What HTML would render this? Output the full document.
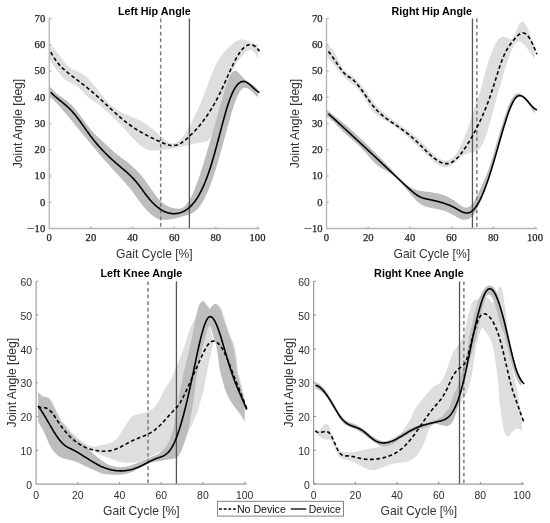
<!DOCTYPE html>
<html><head><meta charset="utf-8"><title>Joint Angles</title>
<style>html,body{margin:0;padding:0;background:#fff;}body{width:550px;height:523px;overflow:hidden;}svg{display:block;}</style>
</head><body>
<svg width="550" height="523" viewBox="0 0 550 523">
<g id="TL">
<path d="M49.5 44.2 L50.2 44.7 L50.9 45.3 L51.6 45.9 L52.3 46.6 L53.0 47.4 L53.7 48.1 L54.4 49.0 L55.1 49.8 L55.8 50.7 L56.5 51.6 L57.2 52.5 L57.9 53.4 L58.6 54.3 L59.3 55.3 L60.0 56.2 L60.7 57.2 L61.4 58.1 L62.1 59.1 L62.8 60.0 L63.5 60.9 L64.2 61.8 L64.9 62.7 L65.6 63.5 L66.3 64.3 L67.0 65.1 L67.7 65.8 L68.4 66.5 L69.1 67.1 L69.8 67.6 L70.5 68.2 L71.2 68.6 L71.9 69.1 L72.6 69.4 L73.3 69.8 L74.0 70.1 L74.7 70.4 L75.4 70.7 L76.1 71.0 L76.8 71.3 L77.5 71.6 L78.2 71.8 L78.9 72.1 L79.6 72.4 L80.3 72.8 L81.0 73.1 L81.7 73.5 L82.4 73.9 L83.1 74.4 L83.8 74.9 L84.5 75.4 L85.2 75.9 L85.9 76.5 L86.6 77.1 L87.3 77.8 L88.0 78.4 L88.7 79.1 L89.4 79.9 L90.1 80.6 L90.8 81.4 L91.5 82.1 L92.2 82.9 L92.9 83.8 L93.6 84.6 L94.3 85.4 L95.0 86.3 L95.7 87.2 L96.4 88.1 L97.1 88.9 L97.8 89.8 L98.5 90.7 L99.2 91.6 L99.9 92.5 L100.6 93.4 L101.3 94.3 L102.0 95.2 L102.7 96.0 L103.4 96.9 L104.1 97.7 L104.8 98.6 L105.5 99.4 L106.2 100.2 L106.9 101.0 L107.6 101.8 L108.3 102.5 L109.0 103.3 L109.7 104.0 L110.4 104.6 L111.1 105.3 L111.8 105.9 L112.5 106.5 L113.2 107.1 L113.9 107.6 L114.6 108.1 L115.3 108.6 L116.0 109.1 L116.7 109.6 L117.4 110.0 L118.1 110.5 L118.8 110.9 L119.5 111.3 L120.2 111.7 L120.9 112.0 L121.6 112.4 L122.3 112.7 L123.0 113.1 L123.7 113.4 L124.4 113.7 L125.1 114.0 L125.8 114.4 L126.5 114.7 L127.2 115.0 L127.9 115.3 L128.6 115.5 L129.3 115.8 L130.0 116.1 L130.7 116.4 L131.4 116.7 L132.1 117.0 L132.8 117.3 L133.5 117.6 L134.2 117.9 L134.9 118.2 L135.6 118.6 L136.3 118.9 L137.0 119.2 L137.7 119.5 L138.4 119.9 L139.1 120.2 L139.8 120.6 L140.5 120.9 L141.2 121.3 L141.9 121.7 L142.6 122.1 L143.3 122.5 L144.0 122.9 L144.7 123.3 L145.4 123.8 L146.1 124.2 L146.8 124.7 L147.5 125.2 L148.2 125.7 L148.9 126.2 L149.6 126.8 L150.3 127.3 L151.0 127.9 L151.7 128.4 L152.4 129.0 L153.1 129.6 L153.8 130.2 L154.5 130.8 L155.2 131.4 L155.9 132.0 L156.6 132.6 L157.3 133.2 L158.0 133.8 L158.7 134.5 L159.4 135.1 L160.1 135.7 L160.8 136.4 L161.5 137.0 L162.2 137.6 L162.9 138.2 L163.6 138.8 L164.3 139.4 L165.0 139.9 L165.7 140.4 L166.4 140.9 L167.1 141.4 L167.8 141.8 L168.5 142.2 L169.2 142.5 L169.9 142.8 L170.6 143.0 L171.3 143.2 L172.0 143.3 L172.7 143.4 L173.4 143.4 L174.1 143.3 L174.8 143.1 L175.5 142.9 L176.2 142.6 L176.9 142.2 L177.6 141.8 L178.3 141.3 L179.0 140.7 L179.7 140.1 L180.4 139.4 L181.1 138.7 L181.8 137.9 L182.5 137.0 L183.2 136.1 L183.9 135.2 L184.6 134.2 L185.3 133.2 L186.0 132.1 L186.7 131.0 L187.4 129.9 L188.1 128.7 L188.8 127.5 L189.5 126.2 L190.2 124.9 L190.9 123.6 L191.6 122.3 L192.3 121.0 L193.0 119.6 L193.7 118.2 L194.4 116.7 L195.1 115.3 L195.8 113.8 L196.5 112.3 L197.2 110.7 L197.9 109.2 L198.6 107.6 L199.3 106.0 L200.0 104.3 L200.7 102.7 L201.4 101.0 L202.1 99.3 L202.8 97.5 L203.5 95.8 L204.2 94.0 L204.9 92.2 L205.6 90.3 L206.3 88.5 L207.0 86.6 L207.7 84.7 L208.4 82.8 L209.1 81.0 L209.8 79.1 L210.5 77.3 L211.2 75.5 L211.9 73.7 L212.6 72.0 L213.3 70.3 L214.0 68.7 L214.7 67.1 L215.4 65.7 L216.1 64.3 L216.8 62.9 L217.5 61.6 L218.2 60.4 L218.9 59.3 L219.6 58.2 L220.3 57.2 L221.0 56.2 L221.7 55.2 L222.4 54.3 L223.1 53.5 L223.8 52.6 L224.5 51.8 L225.2 51.1 L225.9 50.3 L226.6 49.6 L227.3 48.9 L228.0 48.2 L228.7 47.5 L229.4 46.8 L230.1 46.1 L230.8 45.5 L231.5 44.9 L232.2 44.3 L232.9 43.7 L233.6 43.1 L234.3 42.6 L235.0 42.1 L235.7 41.6 L236.4 41.2 L237.1 40.8 L237.8 40.5 L238.5 40.2 L239.2 39.9 L239.9 39.7 L240.6 39.6 L241.3 39.5 L242.0 39.5 L242.7 39.5 L243.4 39.6 L244.1 39.8 L244.8 39.9 L245.5 40.1 L246.2 40.4 L246.9 40.6 L247.6 40.9 L248.3 41.2 L249.0 41.5 L249.7 41.8 L250.4 42.1 L251.1 42.4 L251.8 42.7 L252.5 43.0 L253.2 43.2 L253.9 43.4 L254.6 43.6 L255.3 43.7 L256.0 43.8 L256.7 43.9 L257.9 43.8 L257.9 59.2 L256.7 56.5 L256.0 55.1 L255.3 54.0 L254.6 53.0 L253.9 52.1 L253.2 51.5 L252.5 50.9 L251.8 50.5 L251.1 50.3 L250.4 50.1 L249.7 50.1 L249.0 50.2 L248.3 50.4 L247.6 50.7 L246.9 51.1 L246.2 51.6 L245.5 52.1 L244.8 52.8 L244.1 53.5 L243.4 54.2 L242.7 55.0 L242.0 55.9 L241.3 56.7 L240.6 57.7 L239.9 58.6 L239.2 59.6 L238.5 60.6 L237.8 61.6 L237.1 62.6 L236.4 63.7 L235.7 64.8 L235.0 65.9 L234.3 67.0 L233.6 68.2 L232.9 69.5 L232.2 70.9 L231.5 72.5 L230.8 74.2 L230.1 76.1 L229.4 78.2 L228.7 80.3 L228.0 82.6 L227.3 85.0 L226.6 87.5 L225.9 90.1 L225.2 92.7 L224.5 95.3 L223.8 97.9 L223.1 100.6 L222.4 103.2 L221.7 105.8 L221.0 108.4 L220.3 110.9 L219.6 113.3 L218.9 115.7 L218.2 118.1 L217.5 120.3 L216.8 122.5 L216.1 124.6 L215.4 126.6 L214.7 128.5 L214.0 130.3 L213.3 132.0 L212.6 133.5 L211.9 135.0 L211.2 136.3 L210.5 137.5 L209.8 138.6 L209.1 139.5 L208.4 140.2 L207.7 140.8 L207.0 141.3 L206.3 141.6 L205.6 141.8 L204.9 141.9 L204.2 142.0 L203.5 142.1 L202.8 142.2 L202.1 142.3 L201.4 142.4 L200.7 142.5 L200.0 142.6 L199.3 142.7 L198.6 142.8 L197.9 143.0 L197.2 143.1 L196.5 143.3 L195.8 143.4 L195.1 143.6 L194.4 143.7 L193.7 143.9 L193.0 144.1 L192.3 144.3 L191.6 144.4 L190.9 144.6 L190.2 144.8 L189.5 144.9 L188.8 145.1 L188.1 145.3 L187.4 145.4 L186.7 145.6 L186.0 145.8 L185.3 145.9 L184.6 146.1 L183.9 146.2 L183.2 146.4 L182.5 146.5 L181.8 146.7 L181.1 146.8 L180.4 147.0 L179.7 147.1 L179.0 147.3 L178.3 147.4 L177.6 147.6 L176.9 147.7 L176.2 147.8 L175.5 148.0 L174.8 148.1 L174.1 148.2 L173.4 148.3 L172.7 148.5 L172.0 148.6 L171.3 148.7 L170.6 148.8 L169.9 148.9 L169.2 149.0 L168.5 149.1 L167.8 149.2 L167.1 149.4 L166.4 149.5 L165.7 149.5 L165.0 149.6 L164.3 149.7 L163.6 149.8 L162.9 149.9 L162.2 150.0 L161.5 150.1 L160.8 150.2 L160.1 150.2 L159.4 150.3 L158.7 150.4 L158.0 150.5 L157.3 150.5 L156.6 150.6 L155.9 150.6 L155.2 150.7 L154.5 150.7 L153.8 150.7 L153.1 150.7 L152.4 150.7 L151.7 150.6 L151.0 150.5 L150.3 150.4 L149.6 150.3 L148.9 150.1 L148.2 149.9 L147.5 149.7 L146.8 149.4 L146.1 149.1 L145.4 148.8 L144.7 148.4 L144.0 148.0 L143.3 147.6 L142.6 147.1 L141.9 146.6 L141.2 146.1 L140.5 145.5 L139.8 145.0 L139.1 144.4 L138.4 143.7 L137.7 143.1 L137.0 142.4 L136.3 141.8 L135.6 141.1 L134.9 140.4 L134.2 139.7 L133.5 138.9 L132.8 138.2 L132.1 137.4 L131.4 136.7 L130.7 135.9 L130.0 135.2 L129.3 134.4 L128.6 133.6 L127.9 132.9 L127.2 132.1 L126.5 131.3 L125.8 130.6 L125.1 129.8 L124.4 129.1 L123.7 128.3 L123.0 127.5 L122.3 126.8 L121.6 126.0 L120.9 125.3 L120.2 124.5 L119.5 123.8 L118.8 123.1 L118.1 122.3 L117.4 121.6 L116.7 120.9 L116.0 120.1 L115.3 119.4 L114.6 118.7 L113.9 118.0 L113.2 117.3 L112.5 116.6 L111.8 115.9 L111.1 115.3 L110.4 114.6 L109.7 113.9 L109.0 113.3 L108.3 112.6 L107.6 112.0 L106.9 111.4 L106.2 110.7 L105.5 110.1 L104.8 109.5 L104.1 108.9 L103.4 108.3 L102.7 107.8 L102.0 107.2 L101.3 106.6 L100.6 106.1 L99.9 105.6 L99.2 105.0 L98.5 104.5 L97.8 104.0 L97.1 103.5 L96.4 103.1 L95.7 102.6 L95.0 102.1 L94.3 101.7 L93.6 101.2 L92.9 100.7 L92.2 100.3 L91.5 99.8 L90.8 99.3 L90.1 98.8 L89.4 98.3 L88.7 97.7 L88.0 97.2 L87.3 96.6 L86.6 95.9 L85.9 95.3 L85.2 94.6 L84.5 93.8 L83.8 93.1 L83.1 92.3 L82.4 91.5 L81.7 90.7 L81.0 89.9 L80.3 89.1 L79.6 88.4 L78.9 87.7 L78.2 87.0 L77.5 86.5 L76.8 85.9 L76.1 85.5 L75.4 85.0 L74.7 84.6 L74.0 84.2 L73.3 83.9 L72.6 83.6 L71.9 83.2 L71.2 82.9 L70.5 82.6 L69.8 82.3 L69.1 81.9 L68.4 81.5 L67.7 81.1 L67.0 80.7 L66.3 80.3 L65.6 79.7 L64.9 79.2 L64.2 78.6 L63.5 77.9 L62.8 77.2 L62.1 76.5 L61.4 75.7 L60.7 74.9 L60.0 74.1 L59.3 73.3 L58.6 72.4 L57.9 71.5 L57.2 70.6 L56.5 69.6 L55.8 68.7 L55.1 67.7 L54.4 66.7 L53.7 65.7 L53.0 64.7 L52.3 63.7 L51.6 62.7 L50.9 61.7 L50.2 60.8 L49.5 59.8Z" fill="#dedede"/>
<path d="M49.5 86.0 L50.2 86.9 L50.9 87.7 L51.6 88.6 L52.3 89.3 L53.0 90.1 L53.7 90.8 L54.4 91.5 L55.1 92.1 L55.8 92.8 L56.5 93.4 L57.2 93.9 L57.9 94.5 L58.6 95.0 L59.3 95.6 L60.0 96.1 L60.7 96.6 L61.4 97.1 L62.1 97.6 L62.8 98.1 L63.5 98.6 L64.2 99.1 L64.9 99.6 L65.6 100.1 L66.3 100.6 L67.0 101.1 L67.7 101.6 L68.4 102.2 L69.1 102.8 L69.8 103.4 L70.5 104.0 L71.2 104.7 L71.9 105.3 L72.6 106.1 L73.3 106.8 L74.0 107.6 L74.7 108.4 L75.4 109.2 L76.1 110.1 L76.8 110.9 L77.5 111.8 L78.2 112.7 L78.9 113.6 L79.6 114.6 L80.3 115.5 L81.0 116.5 L81.7 117.4 L82.4 118.4 L83.1 119.4 L83.8 120.3 L84.5 121.3 L85.2 122.3 L85.9 123.2 L86.6 124.2 L87.3 125.1 L88.0 126.0 L88.7 126.9 L89.4 127.8 L90.1 128.7 L90.8 129.5 L91.5 130.4 L92.2 131.2 L92.9 132.0 L93.6 132.7 L94.3 133.5 L95.0 134.2 L95.7 134.9 L96.4 135.6 L97.1 136.3 L97.8 137.0 L98.5 137.7 L99.2 138.3 L99.9 139.0 L100.6 139.6 L101.3 140.3 L102.0 140.9 L102.7 141.6 L103.4 142.2 L104.1 142.9 L104.8 143.5 L105.5 144.2 L106.2 144.8 L106.9 145.5 L107.6 146.2 L108.3 146.8 L109.0 147.5 L109.7 148.1 L110.4 148.7 L111.1 149.4 L111.8 150.0 L112.5 150.6 L113.2 151.2 L113.9 151.8 L114.6 152.4 L115.3 153.0 L116.0 153.6 L116.7 154.1 L117.4 154.7 L118.1 155.2 L118.8 155.8 L119.5 156.3 L120.2 156.8 L120.9 157.4 L121.6 157.9 L122.3 158.4 L123.0 158.9 L123.7 159.5 L124.4 160.0 L125.1 160.5 L125.8 161.0 L126.5 161.6 L127.2 162.1 L127.9 162.7 L128.6 163.2 L129.3 163.8 L130.0 164.4 L130.7 164.9 L131.4 165.5 L132.1 166.1 L132.8 166.7 L133.5 167.4 L134.2 168.0 L134.9 168.7 L135.6 169.3 L136.3 170.0 L137.0 170.7 L137.7 171.5 L138.4 172.2 L139.1 173.0 L139.8 173.7 L140.5 174.5 L141.2 175.4 L141.9 176.2 L142.6 177.1 L143.3 178.0 L144.0 178.9 L144.7 179.9 L145.4 180.8 L146.1 181.8 L146.8 182.8 L147.5 183.8 L148.2 184.8 L148.9 185.8 L149.6 186.8 L150.3 187.8 L151.0 188.8 L151.7 189.8 L152.4 190.8 L153.1 191.8 L153.8 192.8 L154.5 193.8 L155.2 194.7 L155.9 195.6 L156.6 196.5 L157.3 197.4 L158.0 198.2 L158.7 199.0 L159.4 199.8 L160.1 200.6 L160.8 201.3 L161.5 201.9 L162.2 202.6 L162.9 203.1 L163.6 203.7 L164.3 204.2 L165.0 204.6 L165.7 205.1 L166.4 205.5 L167.1 205.8 L167.8 206.2 L168.5 206.5 L169.2 206.8 L169.9 207.0 L170.6 207.3 L171.3 207.5 L172.0 207.7 L172.7 207.9 L173.4 208.0 L174.1 208.2 L174.8 208.3 L175.5 208.4 L176.2 208.5 L176.9 208.6 L177.6 208.7 L178.3 208.7 L179.0 208.6 L179.7 208.5 L180.4 208.4 L181.1 208.2 L181.8 208.0 L182.5 207.7 L183.2 207.3 L183.9 206.8 L184.6 206.2 L185.3 205.6 L186.0 204.9 L186.7 204.1 L187.4 203.1 L188.1 202.1 L188.8 201.1 L189.5 199.9 L190.2 198.6 L190.9 197.3 L191.6 195.9 L192.3 194.4 L193.0 192.9 L193.7 191.3 L194.4 189.6 L195.1 187.9 L195.8 186.1 L196.5 184.2 L197.2 182.3 L197.9 180.4 L198.6 178.4 L199.3 176.4 L200.0 174.3 L200.7 172.2 L201.4 170.0 L202.1 167.8 L202.8 165.6 L203.5 163.4 L204.2 161.1 L204.9 158.8 L205.6 156.5 L206.3 154.1 L207.0 151.8 L207.7 149.4 L208.4 147.0 L209.1 144.6 L209.8 142.2 L210.5 139.8 L211.2 137.4 L211.9 135.0 L212.6 132.5 L213.3 130.1 L214.0 127.6 L214.7 125.1 L215.4 122.7 L216.1 120.2 L216.8 117.7 L217.5 115.2 L218.2 112.7 L218.9 110.2 L219.6 107.7 L220.3 105.3 L221.0 102.8 L221.7 100.4 L222.4 98.0 L223.1 95.7 L223.8 93.3 L224.5 91.1 L225.2 88.8 L225.9 86.6 L226.6 84.5 L227.3 82.5 L228.0 80.6 L228.7 78.8 L229.4 77.2 L230.1 75.7 L230.8 74.3 L231.5 73.2 L232.2 72.2 L232.9 71.5 L233.6 71.0 L234.3 70.8 L235.0 70.7 L235.7 70.8 L236.4 71.1 L237.1 71.5 L237.8 72.0 L238.5 72.7 L239.2 73.3 L239.9 74.1 L240.6 74.8 L241.3 75.6 L242.0 76.4 L242.7 77.2 L243.4 78.0 L244.1 78.7 L244.8 79.4 L245.5 80.1 L246.2 80.7 L246.9 81.2 L247.6 81.7 L248.3 82.2 L249.0 82.6 L249.7 83.0 L250.4 83.5 L251.1 83.9 L251.8 84.3 L252.5 84.7 L253.2 85.2 L253.9 85.7 L254.6 86.3 L255.3 87.0 L256.0 87.7 L256.7 88.5 L257.9 90.0 L257.9 97.2 L256.7 96.3 L256.0 95.7 L255.3 95.0 L254.6 94.3 L253.9 93.7 L253.2 93.0 L252.5 92.3 L251.8 91.6 L251.1 91.0 L250.4 90.4 L249.7 89.8 L249.0 89.3 L248.3 88.8 L247.6 88.4 L246.9 88.1 L246.2 87.9 L245.5 87.7 L244.8 87.7 L244.1 87.8 L243.4 88.1 L242.7 88.4 L242.0 89.0 L241.3 89.6 L240.6 90.5 L239.9 91.5 L239.2 92.6 L238.5 93.9 L237.8 95.3 L237.1 96.9 L236.4 98.6 L235.7 100.4 L235.0 102.3 L234.3 104.3 L233.6 106.4 L232.9 108.5 L232.2 110.8 L231.5 113.1 L230.8 115.5 L230.1 117.9 L229.4 120.4 L228.7 122.9 L228.0 125.5 L227.3 128.1 L226.6 130.7 L225.9 133.3 L225.2 135.9 L224.5 138.5 L223.8 141.1 L223.1 143.6 L222.4 146.2 L221.7 148.8 L221.0 151.3 L220.3 153.8 L219.6 156.3 L218.9 158.7 L218.2 161.1 L217.5 163.5 L216.8 165.8 L216.1 168.1 L215.4 170.4 L214.7 172.6 L214.0 174.7 L213.3 176.8 L212.6 178.8 L211.9 180.8 L211.2 182.8 L210.5 184.6 L209.8 186.5 L209.1 188.3 L208.4 190.0 L207.7 191.7 L207.0 193.3 L206.3 194.8 L205.6 196.3 L204.9 197.8 L204.2 199.1 L203.5 200.4 L202.8 201.7 L202.1 202.9 L201.4 204.0 L200.7 205.1 L200.0 206.1 L199.3 207.0 L198.6 207.9 L197.9 208.7 L197.2 209.5 L196.5 210.1 L195.8 210.7 L195.1 211.3 L194.4 211.8 L193.7 212.3 L193.0 212.7 L192.3 213.0 L191.6 213.4 L190.9 213.7 L190.2 214.0 L189.5 214.2 L188.8 214.5 L188.1 214.7 L187.4 214.9 L186.7 215.1 L186.0 215.4 L185.3 215.6 L184.6 215.8 L183.9 216.0 L183.2 216.2 L182.5 216.4 L181.8 216.6 L181.1 216.9 L180.4 217.1 L179.7 217.3 L179.0 217.5 L178.3 217.7 L177.6 217.8 L176.9 218.0 L176.2 218.2 L175.5 218.4 L174.8 218.5 L174.1 218.7 L173.4 218.8 L172.7 219.0 L172.0 219.1 L171.3 219.2 L170.6 219.3 L169.9 219.4 L169.2 219.5 L168.5 219.6 L167.8 219.7 L167.1 219.8 L166.4 219.8 L165.7 219.8 L165.0 219.8 L164.3 219.8 L163.6 219.8 L162.9 219.8 L162.2 219.7 L161.5 219.6 L160.8 219.5 L160.1 219.4 L159.4 219.2 L158.7 219.0 L158.0 218.8 L157.3 218.5 L156.6 218.2 L155.9 217.9 L155.2 217.5 L154.5 217.1 L153.8 216.6 L153.1 216.1 L152.4 215.6 L151.7 215.1 L151.0 214.5 L150.3 213.9 L149.6 213.2 L148.9 212.6 L148.2 211.9 L147.5 211.1 L146.8 210.4 L146.1 209.6 L145.4 208.8 L144.7 208.0 L144.0 207.1 L143.3 206.3 L142.6 205.4 L141.9 204.5 L141.2 203.6 L140.5 202.7 L139.8 201.8 L139.1 200.8 L138.4 199.9 L137.7 198.9 L137.0 198.0 L136.3 197.0 L135.6 196.0 L134.9 195.0 L134.2 194.1 L133.5 193.1 L132.8 192.1 L132.1 191.2 L131.4 190.3 L130.7 189.4 L130.0 188.5 L129.3 187.6 L128.6 186.8 L127.9 186.0 L127.2 185.2 L126.5 184.4 L125.8 183.6 L125.1 182.8 L124.4 182.0 L123.7 181.2 L123.0 180.4 L122.3 179.7 L121.6 178.9 L120.9 178.1 L120.2 177.4 L119.5 176.6 L118.8 175.8 L118.1 175.1 L117.4 174.3 L116.7 173.5 L116.0 172.8 L115.3 172.0 L114.6 171.2 L113.9 170.5 L113.2 169.7 L112.5 168.9 L111.8 168.2 L111.1 167.4 L110.4 166.6 L109.7 165.9 L109.0 165.1 L108.3 164.3 L107.6 163.5 L106.9 162.7 L106.2 161.9 L105.5 161.2 L104.8 160.4 L104.1 159.6 L103.4 158.8 L102.7 158.0 L102.0 157.2 L101.3 156.3 L100.6 155.5 L99.9 154.7 L99.2 153.9 L98.5 153.1 L97.8 152.3 L97.1 151.4 L96.4 150.6 L95.7 149.8 L95.0 148.9 L94.3 148.1 L93.6 147.3 L92.9 146.4 L92.2 145.6 L91.5 144.8 L90.8 143.9 L90.1 143.1 L89.4 142.2 L88.7 141.4 L88.0 140.5 L87.3 139.7 L86.6 138.8 L85.9 138.0 L85.2 137.1 L84.5 136.3 L83.8 135.4 L83.1 134.6 L82.4 133.7 L81.7 132.9 L81.0 132.0 L80.3 131.2 L79.6 130.3 L78.9 129.5 L78.2 128.6 L77.5 127.7 L76.8 126.9 L76.1 126.0 L75.4 125.2 L74.7 124.3 L74.0 123.5 L73.3 122.6 L72.6 121.8 L71.9 120.9 L71.2 120.1 L70.5 119.3 L69.8 118.4 L69.1 117.6 L68.4 116.8 L67.7 115.9 L67.0 115.1 L66.3 114.3 L65.6 113.5 L64.9 112.6 L64.2 111.8 L63.5 111.0 L62.8 110.2 L62.1 109.4 L61.4 108.6 L60.7 107.8 L60.0 107.0 L59.3 106.2 L58.6 105.5 L57.9 104.7 L57.2 103.9 L56.5 103.2 L55.8 102.4 L55.1 101.7 L54.4 100.9 L53.7 100.2 L53.0 99.4 L52.3 98.7 L51.6 98.0 L50.9 97.3 L50.2 96.6 L49.5 95.9Z" fill="#bdbdbd"/>
<path d="M189.40 18.5V228.5" stroke="#555" stroke-width="1.3" fill="none"/>
<path d="M160.66 18.5V228.5" stroke="#787878" stroke-width="1.45" stroke-dasharray="3.7 2.9" fill="none"/>
<path d="M50.8 52.2 L51.5 53.5 L52.2 54.7 L52.9 55.9 L53.6 57.0 L54.3 58.1 L55.0 59.1 L55.7 60.1 L56.4 61.1 L57.1 62.0 L57.8 62.9 L58.5 63.8 L59.2 64.6 L59.9 65.4 L60.6 66.1 L61.3 66.9 L62.0 67.6 L62.7 68.3 L63.4 68.9 L64.1 69.5 L64.8 70.2 L65.5 70.8 L66.2 71.4 L66.9 71.9 L67.6 72.5 L68.3 73.1 L69.0 73.6 L69.7 74.2 L70.4 74.7 L71.1 75.3 L71.8 75.8 L72.5 76.3 L73.2 76.9 L73.9 77.4 L74.6 77.9 L75.3 78.5 L76.0 79.0 L76.7 79.5 L77.4 80.1 L78.1 80.6 L78.8 81.1 L79.5 81.7 L80.2 82.2 L80.9 82.8 L81.6 83.3 L82.3 83.8 L83.0 84.4 L83.7 84.9 L84.4 85.5 L85.1 86.0 L85.8 86.6 L86.5 87.1 L87.2 87.7 L87.9 88.3 L88.6 88.8 L89.3 89.4 L90.0 90.0 L90.7 90.6 L91.4 91.2 L92.1 91.8 L92.8 92.4 L93.5 93.0 L94.2 93.6 L94.9 94.2 L95.6 94.8 L96.3 95.4 L97.0 96.1 L97.7 96.7 L98.4 97.3 L99.1 98.0 L99.8 98.6 L100.5 99.2 L101.2 99.9 L101.9 100.5 L102.6 101.2 L103.3 101.8 L104.0 102.5 L104.7 103.1 L105.4 103.8 L106.1 104.4 L106.8 105.1 L107.5 105.8 L108.2 106.4 L108.9 107.1 L109.6 107.7 L110.3 108.4 L111.0 109.0 L111.7 109.7 L112.4 110.3 L113.1 110.9 L113.8 111.6 L114.5 112.2 L115.2 112.9 L115.9 113.5 L116.6 114.1 L117.3 114.7 L118.0 115.4 L118.7 116.0 L119.4 116.6 L120.1 117.2 L120.8 117.8 L121.5 118.4 L122.2 119.0 L122.9 119.6 L123.6 120.1 L124.3 120.7 L125.0 121.3 L125.7 121.8 L126.4 122.4 L127.1 122.9 L127.8 123.5 L128.5 124.0 L129.2 124.5 L129.9 125.0 L130.6 125.5 L131.3 126.0 L132.0 126.5 L132.7 127.0 L133.4 127.4 L134.1 127.9 L134.8 128.4 L135.5 128.8 L136.2 129.3 L136.9 129.7 L137.6 130.1 L138.3 130.6 L139.0 131.0 L139.7 131.4 L140.4 131.8 L141.1 132.2 L141.8 132.6 L142.5 133.0 L143.2 133.4 L143.9 133.8 L144.6 134.1 L145.3 134.5 L146.0 134.9 L146.7 135.3 L147.4 135.6 L148.1 136.0 L148.8 136.3 L149.5 136.7 L150.2 137.0 L150.9 137.4 L151.6 137.7 L152.3 138.1 L153.0 138.4 L153.7 138.7 L154.4 139.1 L155.1 139.4 L155.8 139.7 L156.5 140.0 L157.2 140.4 L157.9 140.7 L158.6 141.0 L159.3 141.3 L160.0 141.6 L160.7 142.0 L161.4 142.3 L162.1 142.6 L162.8 142.9 L163.5 143.2 L164.2 143.5 L164.9 143.8 L165.6 144.0 L166.3 144.3 L167.0 144.5 L167.7 144.7 L168.4 144.9 L169.1 145.1 L169.8 145.2 L170.5 145.4 L171.2 145.5 L171.9 145.5 L172.6 145.5 L173.3 145.5 L174.0 145.5 L174.7 145.4 L175.4 145.3 L176.1 145.2 L176.8 145.0 L177.5 144.7 L178.2 144.5 L178.9 144.2 L179.6 143.8 L180.3 143.5 L181.0 143.1 L181.7 142.6 L182.4 142.2 L183.1 141.7 L183.8 141.2 L184.5 140.7 L185.2 140.1 L185.9 139.5 L186.6 138.9 L187.3 138.3 L188.0 137.7 L188.7 137.1 L189.4 136.4 L190.1 135.7 L190.8 135.0 L191.5 134.3 L192.2 133.6 L192.9 132.9 L193.6 132.2 L194.3 131.5 L195.0 130.7 L195.7 129.9 L196.4 129.2 L197.1 128.4 L197.8 127.6 L198.5 126.8 L199.2 125.9 L199.9 125.1 L200.6 124.2 L201.3 123.3 L202.0 122.5 L202.7 121.6 L203.4 120.6 L204.1 119.7 L204.8 118.7 L205.5 117.8 L206.2 116.8 L206.9 115.8 L207.6 114.7 L208.3 113.7 L209.0 112.6 L209.7 111.5 L210.4 110.4 L211.1 109.3 L211.8 108.1 L212.5 107.0 L213.2 105.8 L213.9 104.6 L214.6 103.3 L215.3 102.1 L216.0 100.8 L216.7 99.5 L217.4 98.2 L218.1 96.8 L218.8 95.4 L219.5 94.0 L220.2 92.6 L220.9 91.2 L221.6 89.7 L222.3 88.2 L223.0 86.7 L223.7 85.1 L224.4 83.6 L225.1 82.0 L225.8 80.4 L226.5 78.9 L227.2 77.3 L227.9 75.7 L228.6 74.2 L229.3 72.6 L230.0 71.1 L230.7 69.5 L231.4 68.0 L232.1 66.5 L232.8 65.1 L233.5 63.6 L234.2 62.2 L234.9 60.9 L235.6 59.5 L236.3 58.2 L237.0 57.0 L237.7 55.8 L238.4 54.6 L239.1 53.5 L239.8 52.5 L240.5 51.5 L241.2 50.6 L241.9 49.7 L242.6 48.9 L243.3 48.2 L244.0 47.5 L244.7 46.9 L245.4 46.4 L246.1 45.9 L246.8 45.6 L247.5 45.2 L248.2 45.0 L248.9 44.8 L249.6 44.7 L250.3 44.7 L251.0 44.7 L251.7 44.8 L252.4 45.0 L253.1 45.3 L253.8 45.6 L254.5 46.0 L255.2 46.5 L255.9 47.1 L256.6 47.8 L257.3 48.5 L258.0 49.3 L258.7 50.2 L259.5 51.4" stroke="#000" stroke-width="1.6" stroke-dasharray="3.7 2.6" fill="none" stroke-linejoin="round"/>
<path d="M50.8 92.3 L51.5 93.0 L52.2 93.7 L52.9 94.4 L53.6 95.0 L54.3 95.6 L55.0 96.3 L55.7 96.9 L56.4 97.5 L57.1 98.1 L57.8 98.7 L58.5 99.2 L59.2 99.8 L59.9 100.4 L60.6 100.9 L61.3 101.5 L62.0 102.1 L62.7 102.7 L63.4 103.2 L64.1 103.8 L64.8 104.4 L65.5 105.0 L66.2 105.6 L66.9 106.2 L67.6 106.9 L68.3 107.5 L69.0 108.2 L69.7 108.8 L70.4 109.5 L71.1 110.3 L71.8 111.0 L72.5 111.8 L73.2 112.6 L73.9 113.4 L74.6 114.2 L75.3 115.1 L76.0 116.0 L76.7 116.9 L77.4 117.8 L78.1 118.7 L78.8 119.6 L79.5 120.6 L80.2 121.5 L80.9 122.5 L81.6 123.5 L82.3 124.5 L83.0 125.4 L83.7 126.4 L84.4 127.4 L85.1 128.4 L85.8 129.4 L86.5 130.4 L87.2 131.4 L87.9 132.3 L88.6 133.3 L89.3 134.3 L90.0 135.2 L90.7 136.2 L91.4 137.1 L92.1 138.0 L92.8 138.9 L93.5 139.8 L94.2 140.7 L94.9 141.5 L95.6 142.4 L96.3 143.2 L97.0 144.1 L97.7 144.9 L98.4 145.7 L99.1 146.5 L99.8 147.3 L100.5 148.0 L101.2 148.8 L101.9 149.6 L102.6 150.3 L103.3 151.0 L104.0 151.8 L104.7 152.5 L105.4 153.2 L106.1 153.9 L106.8 154.6 L107.5 155.3 L108.2 155.9 L108.9 156.6 L109.6 157.3 L110.3 157.9 L111.0 158.6 L111.7 159.2 L112.4 159.9 L113.1 160.5 L113.8 161.1 L114.5 161.8 L115.2 162.4 L115.9 163.0 L116.6 163.6 L117.3 164.2 L118.0 164.8 L118.7 165.4 L119.4 166.0 L120.1 166.6 L120.8 167.2 L121.5 167.8 L122.2 168.3 L122.9 168.9 L123.6 169.5 L124.3 170.1 L125.0 170.7 L125.7 171.3 L126.4 171.9 L127.1 172.5 L127.8 173.2 L128.5 173.8 L129.2 174.5 L129.9 175.1 L130.6 175.8 L131.3 176.5 L132.0 177.2 L132.7 177.9 L133.4 178.6 L134.1 179.4 L134.8 180.2 L135.5 181.0 L136.2 181.8 L136.9 182.7 L137.6 183.5 L138.3 184.4 L139.0 185.3 L139.7 186.3 L140.4 187.2 L141.1 188.1 L141.8 189.1 L142.5 190.0 L143.2 191.0 L143.9 191.9 L144.6 192.9 L145.3 193.8 L146.0 194.8 L146.7 195.7 L147.4 196.6 L148.1 197.5 L148.8 198.3 L149.5 199.2 L150.2 200.0 L150.9 200.8 L151.6 201.6 L152.3 202.3 L153.0 203.0 L153.7 203.7 L154.4 204.4 L155.1 205.1 L155.8 205.7 L156.5 206.3 L157.2 206.9 L157.9 207.4 L158.6 208.0 L159.3 208.5 L160.0 209.0 L160.7 209.4 L161.4 209.9 L162.1 210.3 L162.8 210.7 L163.5 211.0 L164.2 211.4 L164.9 211.7 L165.6 212.0 L166.3 212.3 L167.0 212.5 L167.7 212.7 L168.4 212.9 L169.1 213.1 L169.8 213.3 L170.5 213.4 L171.2 213.5 L171.9 213.6 L172.6 213.6 L173.3 213.7 L174.0 213.7 L174.7 213.7 L175.4 213.6 L176.1 213.5 L176.8 213.5 L177.5 213.4 L178.2 213.2 L178.9 213.1 L179.6 212.9 L180.3 212.7 L181.0 212.4 L181.7 212.2 L182.4 211.9 L183.1 211.6 L183.8 211.2 L184.5 210.9 L185.2 210.5 L185.9 210.0 L186.6 209.6 L187.3 209.1 L188.0 208.6 L188.7 208.0 L189.4 207.4 L190.1 206.8 L190.8 206.1 L191.5 205.4 L192.2 204.6 L192.9 203.8 L193.6 203.0 L194.3 202.1 L195.0 201.2 L195.7 200.2 L196.4 199.2 L197.1 198.1 L197.8 197.0 L198.5 195.8 L199.2 194.6 L199.9 193.3 L200.6 192.0 L201.3 190.6 L202.0 189.2 L202.7 187.7 L203.4 186.2 L204.1 184.6 L204.8 182.9 L205.5 181.2 L206.2 179.4 L206.9 177.6 L207.6 175.7 L208.3 173.7 L209.0 171.7 L209.7 169.6 L210.4 167.4 L211.1 165.2 L211.8 162.9 L212.5 160.5 L213.2 158.1 L213.9 155.7 L214.6 153.2 L215.3 150.7 L216.0 148.1 L216.7 145.5 L217.4 142.9 L218.1 140.3 L218.8 137.7 L219.5 135.0 L220.2 132.4 L220.9 129.7 L221.6 127.1 L222.3 124.5 L223.0 121.9 L223.7 119.3 L224.4 116.8 L225.1 114.3 L225.8 111.8 L226.5 109.4 L227.2 107.1 L227.9 104.9 L228.6 102.7 L229.3 100.7 L230.0 98.8 L230.7 97.0 L231.4 95.2 L232.1 93.6 L232.8 92.1 L233.5 90.7 L234.2 89.4 L234.9 88.2 L235.6 87.1 L236.3 86.1 L237.0 85.2 L237.7 84.4 L238.4 83.7 L239.1 83.1 L239.8 82.6 L240.5 82.2 L241.2 81.8 L241.9 81.6 L242.6 81.5 L243.3 81.4 L244.0 81.4 L244.7 81.5 L245.4 81.7 L246.1 82.0 L246.8 82.4 L247.5 82.8 L248.2 83.3 L248.9 83.8 L249.6 84.4 L250.3 85.0 L251.0 85.6 L251.7 86.2 L252.4 86.9 L253.1 87.6 L253.8 88.2 L254.5 88.9 L255.2 89.5 L255.9 90.1 L256.6 90.7 L257.3 91.2 L258.0 91.7 L258.7 92.1 L259.5 92.6" stroke="#000" stroke-width="1.6" fill="none" stroke-linejoin="round"/>
<path d="M49.25 18.50V228.50H259.58M49.25 228.50v-2.1M90.90 228.50v-2.1M132.55 228.50v-2.1M174.20 228.50v-2.1M215.85 228.50v-2.1M257.50 228.50v-2.1M49.25 228.50h2.1M49.25 202.25h2.1M49.25 176.00h2.1M49.25 149.75h2.1M49.25 123.50h2.1M49.25 97.25h2.1M49.25 71.00h2.1M49.25 44.75h2.1M49.25 18.50h2.1" stroke="#b4b4b4" stroke-width="1.3" fill="none"/>
<text x="49.2" y="241.1" text-anchor="middle" font-family="Liberation Serif, serif" font-size="10.6" fill="#222" stroke="#222" stroke-width="0.25">0</text>
<text x="90.9" y="241.1" text-anchor="middle" font-family="Liberation Serif, serif" font-size="10.6" fill="#222" stroke="#222" stroke-width="0.25">20</text>
<text x="132.6" y="241.1" text-anchor="middle" font-family="Liberation Serif, serif" font-size="10.6" fill="#222" stroke="#222" stroke-width="0.25">40</text>
<text x="174.2" y="241.1" text-anchor="middle" font-family="Liberation Serif, serif" font-size="10.6" fill="#222" stroke="#222" stroke-width="0.25">60</text>
<text x="215.8" y="241.1" text-anchor="middle" font-family="Liberation Serif, serif" font-size="10.6" fill="#222" stroke="#222" stroke-width="0.25">80</text>
<text x="257.5" y="241.1" text-anchor="middle" font-family="Liberation Serif, serif" font-size="10.6" fill="#222" stroke="#222" stroke-width="0.25">100</text>
<text x="45.2" y="231.8" text-anchor="end" font-family="Liberation Serif, serif" font-size="10.6" fill="#222" stroke="#222" stroke-width="0.25">10</text>
<text transform="translate(34.9 231.8) scale(1.32 1)" text-anchor="end" font-family="Liberation Serif, serif" font-size="10.6" fill="#222" stroke="#222" stroke-width="0.25">−</text>
<text x="45.2" y="205.6" text-anchor="end" font-family="Liberation Serif, serif" font-size="10.6" fill="#222" stroke="#222" stroke-width="0.25">0</text>
<text x="45.2" y="179.3" text-anchor="end" font-family="Liberation Serif, serif" font-size="10.6" fill="#222" stroke="#222" stroke-width="0.25">10</text>
<text x="45.2" y="153.1" text-anchor="end" font-family="Liberation Serif, serif" font-size="10.6" fill="#222" stroke="#222" stroke-width="0.25">20</text>
<text x="45.2" y="126.8" text-anchor="end" font-family="Liberation Serif, serif" font-size="10.6" fill="#222" stroke="#222" stroke-width="0.25">30</text>
<text x="45.2" y="100.5" text-anchor="end" font-family="Liberation Serif, serif" font-size="10.6" fill="#222" stroke="#222" stroke-width="0.25">40</text>
<text x="45.2" y="74.3" text-anchor="end" font-family="Liberation Serif, serif" font-size="10.6" fill="#222" stroke="#222" stroke-width="0.25">50</text>
<text x="45.2" y="48.0" text-anchor="end" font-family="Liberation Serif, serif" font-size="10.6" fill="#222" stroke="#222" stroke-width="0.25">60</text>
<text x="45.2" y="21.8" text-anchor="end" font-family="Liberation Serif, serif" font-size="10.6" fill="#222" stroke="#222" stroke-width="0.25">70</text>
<text x="154.4" y="257.6" text-anchor="middle" font-family="Liberation Sans, sans-serif" font-size="12.1" fill="#333">Gait Cycle [%]</text>
<text transform="translate(21.6 123.5) rotate(-90)" text-anchor="middle" font-family="Liberation Sans, sans-serif" font-size="12.1" fill="#333">Joint Angle [deg]</text>
<text x="154.4" y="14.5" text-anchor="middle" font-family="Liberation Sans, sans-serif" font-weight="bold" font-size="10.8" fill="#000">Left Hip Angle</text>
</g>
<g id="TR">
<path d="M326.8 44.3 L327.5 44.9 L328.2 45.4 L328.9 46.0 L329.6 46.6 L330.3 47.2 L331.0 47.8 L331.7 48.5 L332.4 49.3 L333.1 50.2 L333.8 51.2 L334.5 52.3 L335.2 53.6 L335.9 54.9 L336.6 56.3 L337.3 57.8 L338.0 59.3 L338.7 60.8 L339.4 62.3 L340.1 63.7 L340.8 65.1 L341.5 66.4 L342.2 67.5 L342.9 68.5 L343.6 69.5 L344.3 70.3 L345.0 71.0 L345.7 71.7 L346.4 72.3 L347.1 72.8 L347.8 73.3 L348.5 73.8 L349.2 74.2 L349.9 74.6 L350.6 75.0 L351.3 75.5 L352.0 75.9 L352.7 76.4 L353.4 76.9 L354.1 77.5 L354.8 78.1 L355.5 78.7 L356.2 79.4 L356.9 80.1 L357.6 80.9 L358.3 81.6 L359.0 82.4 L359.7 83.3 L360.4 84.1 L361.1 85.0 L361.8 85.9 L362.5 86.8 L363.2 87.7 L363.9 88.7 L364.6 89.6 L365.3 90.6 L366.0 91.6 L366.7 92.6 L367.4 93.5 L368.1 94.5 L368.8 95.5 L369.5 96.5 L370.2 97.4 L370.9 98.4 L371.6 99.4 L372.3 100.3 L373.0 101.2 L373.7 102.1 L374.4 103.0 L375.1 103.9 L375.8 104.7 L376.5 105.6 L377.2 106.4 L377.9 107.1 L378.6 107.9 L379.3 108.6 L380.0 109.3 L380.7 110.0 L381.4 110.7 L382.1 111.4 L382.8 112.0 L383.5 112.6 L384.2 113.2 L384.9 113.8 L385.6 114.4 L386.3 115.0 L387.0 115.5 L387.7 116.1 L388.4 116.6 L389.1 117.2 L389.8 117.7 L390.5 118.2 L391.2 118.7 L391.9 119.2 L392.6 119.7 L393.3 120.2 L394.0 120.7 L394.7 121.2 L395.4 121.7 L396.1 122.2 L396.8 122.6 L397.5 123.1 L398.2 123.6 L398.9 124.1 L399.6 124.6 L400.3 125.1 L401.0 125.5 L401.7 126.0 L402.4 126.5 L403.1 127.0 L403.8 127.5 L404.5 128.0 L405.2 128.5 L405.9 129.0 L406.6 129.5 L407.3 130.0 L408.0 130.5 L408.7 131.0 L409.4 131.5 L410.1 132.1 L410.8 132.6 L411.5 133.1 L412.2 133.7 L412.9 134.2 L413.6 134.8 L414.3 135.4 L415.0 135.9 L415.7 136.5 L416.4 137.1 L417.1 137.7 L417.8 138.3 L418.5 139.0 L419.2 139.6 L419.9 140.2 L420.6 140.9 L421.3 141.6 L422.0 142.2 L422.7 142.9 L423.4 143.6 L424.1 144.3 L424.8 145.1 L425.5 145.8 L426.2 146.5 L426.9 147.2 L427.6 148.0 L428.3 148.7 L429.0 149.4 L429.7 150.2 L430.4 150.9 L431.1 151.6 L431.8 152.3 L432.5 153.0 L433.2 153.6 L433.9 154.3 L434.6 154.9 L435.3 155.5 L436.0 156.1 L436.7 156.7 L437.4 157.2 L438.1 157.7 L438.8 158.2 L439.5 158.6 L440.2 159.0 L440.9 159.3 L441.6 159.7 L442.3 159.9 L443.0 160.2 L443.7 160.3 L444.4 160.5 L445.1 160.6 L445.8 160.6 L446.5 160.6 L447.2 160.5 L447.9 160.4 L448.6 160.2 L449.3 159.9 L450.0 159.6 L450.7 159.2 L451.4 158.7 L452.1 158.2 L452.8 157.6 L453.5 156.9 L454.2 156.2 L454.9 155.3 L455.6 154.4 L456.3 153.4 L457.0 152.4 L457.7 151.2 L458.4 150.0 L459.1 148.7 L459.8 147.4 L460.5 145.9 L461.2 144.5 L461.9 142.9 L462.6 141.4 L463.3 139.7 L464.0 138.0 L464.7 136.3 L465.4 134.5 L466.1 132.7 L466.8 130.9 L467.5 129.0 L468.2 127.0 L468.9 125.1 L469.6 123.1 L470.3 121.1 L471.0 119.1 L471.7 117.0 L472.4 115.0 L473.1 112.9 L473.8 110.8 L474.5 108.7 L475.2 106.5 L475.9 104.4 L476.6 102.3 L477.3 100.2 L478.0 98.2 L478.7 96.2 L479.4 94.1 L480.1 91.9 L480.8 89.5 L481.5 86.9 L482.2 84.2 L482.9 81.4 L483.6 78.6 L484.3 75.8 L485.0 73.0 L485.7 70.4 L486.4 67.9 L487.1 65.5 L487.8 63.2 L488.5 61.0 L489.2 58.9 L489.9 56.9 L490.6 55.0 L491.3 53.1 L492.0 51.3 L492.7 49.6 L493.4 48.0 L494.1 46.5 L494.8 45.1 L495.5 43.8 L496.2 42.6 L496.9 41.5 L497.6 40.5 L498.3 39.6 L499.0 38.9 L499.7 38.2 L500.4 37.7 L501.1 37.3 L501.8 37.1 L502.5 36.9 L503.2 36.9 L503.9 36.9 L504.6 37.1 L505.3 37.3 L506.0 37.5 L506.7 37.8 L507.4 38.1 L508.1 38.5 L508.8 38.8 L509.5 39.2 L510.2 39.4 L510.9 39.5 L511.6 39.3 L512.3 38.8 L513.0 38.0 L513.7 36.8 L514.4 35.4 L515.1 33.8 L515.8 32.1 L516.5 30.3 L517.2 28.5 L517.9 26.9 L518.6 25.3 L519.3 24.0 L520.0 22.9 L520.7 22.2 L521.4 21.8 L522.1 21.6 L522.8 21.8 L523.5 22.2 L524.2 22.8 L524.9 23.6 L525.6 24.7 L526.3 25.8 L527.0 27.2 L527.7 28.6 L528.4 30.2 L529.1 31.8 L529.8 33.5 L530.5 35.2 L531.2 37.0 L531.9 38.7 L532.6 40.5 L533.3 42.1 L534.0 43.7 L534.7 45.3 L534.7 58.9 L534.0 58.1 L533.3 57.3 L532.6 56.3 L531.9 55.4 L531.2 54.4 L530.5 53.4 L529.8 52.4 L529.1 51.3 L528.4 50.3 L527.7 49.3 L527.0 48.3 L526.3 47.4 L525.6 46.4 L524.9 45.6 L524.2 44.8 L523.5 44.0 L522.8 43.4 L522.1 42.8 L521.4 42.3 L520.7 41.9 L520.0 41.7 L519.3 41.5 L518.6 41.5 L517.9 41.6 L517.2 41.9 L516.5 42.4 L515.8 43.0 L515.1 43.8 L514.4 44.8 L513.7 45.9 L513.0 47.2 L512.3 48.7 L511.6 50.3 L510.9 52.0 L510.2 53.8 L509.5 55.6 L508.8 57.6 L508.1 59.5 L507.4 61.5 L506.7 63.5 L506.0 65.6 L505.3 67.7 L504.6 70.0 L503.9 72.6 L503.2 75.3 L502.5 78.1 L501.8 80.7 L501.1 83.1 L500.4 85.3 L499.7 87.4 L499.0 89.7 L498.3 92.0 L497.6 94.4 L496.9 96.9 L496.2 99.5 L495.5 102.1 L494.8 104.7 L494.1 107.4 L493.4 110.1 L492.7 112.8 L492.0 115.4 L491.3 118.0 L490.6 120.6 L489.9 123.1 L489.2 125.5 L488.5 127.9 L487.8 130.2 L487.1 132.4 L486.4 134.5 L485.7 136.5 L485.0 138.4 L484.3 140.2 L483.6 141.9 L482.9 143.4 L482.2 144.9 L481.5 146.1 L480.8 147.3 L480.1 148.2 L479.4 149.0 L478.7 149.7 L478.0 150.3 L477.3 150.7 L476.6 151.0 L475.9 151.3 L475.2 151.5 L474.5 151.7 L473.8 151.9 L473.1 152.1 L472.4 152.2 L471.7 152.4 L471.0 152.6 L470.3 152.7 L469.6 152.9 L468.9 153.1 L468.2 153.3 L467.5 153.5 L466.8 153.8 L466.1 154.0 L465.4 154.3 L464.7 154.7 L464.0 155.0 L463.3 155.4 L462.6 155.8 L461.9 156.3 L461.2 156.8 L460.5 157.3 L459.8 157.9 L459.1 158.5 L458.4 159.2 L457.7 159.8 L457.0 160.5 L456.3 161.2 L455.6 161.9 L454.9 162.6 L454.2 163.2 L453.5 163.7 L452.8 164.3 L452.1 164.8 L451.4 165.2 L450.7 165.6 L450.0 166.0 L449.3 166.3 L448.6 166.6 L447.9 166.8 L447.2 167.0 L446.5 167.1 L445.8 167.2 L445.1 167.2 L444.4 167.2 L443.7 167.1 L443.0 167.0 L442.3 166.8 L441.6 166.6 L440.9 166.3 L440.2 166.0 L439.5 165.6 L438.8 165.2 L438.1 164.8 L437.4 164.4 L436.7 163.9 L436.0 163.4 L435.3 162.9 L434.6 162.3 L433.9 161.7 L433.2 161.1 L432.5 160.5 L431.8 159.9 L431.1 159.3 L430.4 158.6 L429.7 158.0 L429.0 157.3 L428.3 156.7 L427.6 156.0 L426.9 155.3 L426.2 154.7 L425.5 154.0 L424.8 153.3 L424.1 152.6 L423.4 152.0 L422.7 151.3 L422.0 150.6 L421.3 149.9 L420.6 149.2 L419.9 148.6 L419.2 147.9 L418.5 147.2 L417.8 146.5 L417.1 145.9 L416.4 145.2 L415.7 144.5 L415.0 143.8 L414.3 143.2 L413.6 142.5 L412.9 141.8 L412.2 141.2 L411.5 140.5 L410.8 139.8 L410.1 139.2 L409.4 138.5 L408.7 137.9 L408.0 137.3 L407.3 136.6 L406.6 136.0 L405.9 135.4 L405.2 134.8 L404.5 134.1 L403.8 133.5 L403.1 132.9 L402.4 132.3 L401.7 131.8 L401.0 131.2 L400.3 130.6 L399.6 130.0 L398.9 129.5 L398.2 128.9 L397.5 128.4 L396.8 127.9 L396.1 127.4 L395.4 126.8 L394.7 126.4 L394.0 125.9 L393.3 125.4 L392.6 124.9 L391.9 124.5 L391.2 124.0 L390.5 123.6 L389.8 123.2 L389.1 122.8 L388.4 122.4 L387.7 122.0 L387.0 121.6 L386.3 121.2 L385.6 120.8 L384.9 120.4 L384.2 120.0 L383.5 119.6 L382.8 119.2 L382.1 118.9 L381.4 118.5 L380.7 118.1 L380.0 117.6 L379.3 117.2 L378.6 116.7 L377.9 116.2 L377.2 115.7 L376.5 115.1 L375.8 114.5 L375.1 113.9 L374.4 113.2 L373.7 112.5 L373.0 111.7 L372.3 110.8 L371.6 109.9 L370.9 108.9 L370.2 107.8 L369.5 106.8 L368.8 105.6 L368.1 104.5 L367.4 103.3 L366.7 102.1 L366.0 100.9 L365.3 99.7 L364.6 98.5 L363.9 97.4 L363.2 96.2 L362.5 95.1 L361.8 94.1 L361.1 93.1 L360.4 92.2 L359.7 91.3 L359.0 90.5 L358.3 89.7 L357.6 88.9 L356.9 88.2 L356.2 87.5 L355.5 86.9 L354.8 86.3 L354.1 85.7 L353.4 85.1 L352.7 84.5 L352.0 83.9 L351.3 83.4 L350.6 82.8 L349.9 82.2 L349.2 81.6 L348.5 81.0 L347.8 80.4 L347.1 79.7 L346.4 79.1 L345.7 78.4 L345.0 77.8 L344.3 77.1 L343.6 76.4 L342.9 75.7 L342.2 74.9 L341.5 74.2 L340.8 73.4 L340.1 72.6 L339.4 71.8 L338.7 71.0 L338.0 70.1 L337.3 69.2 L336.6 68.4 L335.9 67.5 L335.2 66.6 L334.5 65.7 L333.8 64.8 L333.1 63.9 L332.4 63.0 L331.7 62.1 L331.0 61.3 L330.3 60.4 L329.6 59.6 L328.9 58.8 L328.2 58.0 L327.5 57.3 L326.8 56.5Z" fill="#dedede"/>
<path d="M326.8 110.1 L327.5 110.6 L328.2 111.1 L328.9 111.6 L329.6 112.1 L330.3 112.6 L331.0 113.2 L331.7 113.7 L332.4 114.2 L333.1 114.8 L333.8 115.3 L334.5 115.8 L335.2 116.4 L335.9 116.9 L336.6 117.5 L337.3 118.0 L338.0 118.6 L338.7 119.2 L339.4 119.7 L340.1 120.3 L340.8 120.9 L341.5 121.5 L342.2 122.1 L342.9 122.6 L343.6 123.2 L344.3 123.8 L345.0 124.4 L345.7 125.0 L346.4 125.6 L347.1 126.2 L347.8 126.8 L348.5 127.5 L349.2 128.1 L349.9 128.7 L350.6 129.3 L351.3 129.9 L352.0 130.6 L352.7 131.2 L353.4 131.8 L354.1 132.5 L354.8 133.1 L355.5 133.7 L356.2 134.4 L356.9 135.0 L357.6 135.7 L358.3 136.3 L359.0 137.0 L359.7 137.6 L360.4 138.3 L361.1 138.9 L361.8 139.6 L362.5 140.3 L363.2 140.9 L363.9 141.6 L364.6 142.3 L365.3 142.9 L366.0 143.6 L366.7 144.3 L367.4 144.9 L368.1 145.6 L368.8 146.3 L369.5 147.0 L370.2 147.7 L370.9 148.4 L371.6 149.1 L372.3 149.7 L373.0 150.4 L373.7 151.1 L374.4 151.8 L375.1 152.5 L375.8 153.2 L376.5 153.9 L377.2 154.6 L377.9 155.3 L378.6 156.0 L379.3 156.8 L380.0 157.5 L380.7 158.2 L381.4 158.9 L382.1 159.6 L382.8 160.3 L383.5 161.1 L384.2 161.8 L384.9 162.5 L385.6 163.2 L386.3 164.0 L387.0 164.7 L387.7 165.4 L388.4 166.2 L389.1 166.9 L389.8 167.7 L390.5 168.4 L391.2 169.1 L391.9 169.9 L392.6 170.6 L393.3 171.4 L394.0 172.1 L394.7 172.9 L395.4 173.6 L396.1 174.4 L396.8 175.2 L397.5 175.9 L398.2 176.7 L398.9 177.4 L399.6 178.1 L400.3 178.9 L401.0 179.6 L401.7 180.3 L402.4 181.0 L403.1 181.7 L403.8 182.3 L404.5 182.9 L405.2 183.6 L405.9 184.2 L406.6 184.7 L407.3 185.2 L408.0 185.8 L408.7 186.2 L409.4 186.7 L410.1 187.1 L410.8 187.5 L411.5 187.9 L412.2 188.2 L412.9 188.5 L413.6 188.8 L414.3 189.1 L415.0 189.3 L415.7 189.6 L416.4 189.8 L417.1 190.0 L417.8 190.2 L418.5 190.4 L419.2 190.5 L419.9 190.7 L420.6 190.8 L421.3 190.9 L422.0 191.1 L422.7 191.2 L423.4 191.3 L424.1 191.4 L424.8 191.5 L425.5 191.6 L426.2 191.7 L426.9 191.7 L427.6 191.8 L428.3 191.9 L429.0 192.0 L429.7 192.1 L430.4 192.2 L431.1 192.3 L431.8 192.4 L432.5 192.5 L433.2 192.7 L433.9 192.8 L434.6 192.9 L435.3 193.0 L436.0 193.2 L436.7 193.3 L437.4 193.5 L438.1 193.6 L438.8 193.8 L439.5 194.0 L440.2 194.1 L440.9 194.3 L441.6 194.5 L442.3 194.8 L443.0 195.0 L443.7 195.2 L444.4 195.5 L445.1 195.7 L445.8 196.0 L446.5 196.3 L447.2 196.6 L447.9 196.9 L448.6 197.3 L449.3 197.6 L450.0 198.0 L450.7 198.4 L451.4 198.8 L452.1 199.2 L452.8 199.7 L453.5 200.1 L454.2 200.6 L454.9 201.1 L455.6 201.6 L456.3 202.1 L457.0 202.7 L457.7 203.2 L458.4 203.8 L459.1 204.3 L459.8 204.8 L460.5 205.3 L461.2 205.8 L461.9 206.2 L462.6 206.6 L463.3 206.9 L464.0 207.2 L464.7 207.4 L465.4 207.6 L466.1 207.6 L466.8 207.6 L467.5 207.5 L468.2 207.3 L468.9 207.0 L469.6 206.6 L470.3 206.1 L471.0 205.4 L471.7 204.7 L472.4 203.8 L473.1 202.8 L473.8 201.7 L474.5 200.6 L475.2 199.4 L475.9 198.1 L476.6 196.7 L477.3 195.3 L478.0 193.9 L478.7 192.4 L479.4 190.9 L480.1 189.4 L480.8 187.9 L481.5 186.3 L482.2 184.8 L482.9 183.2 L483.6 181.6 L484.3 180.0 L485.0 178.4 L485.7 176.7 L486.4 174.9 L487.1 173.2 L487.8 171.3 L488.5 169.4 L489.2 167.5 L489.9 165.4 L490.6 163.3 L491.3 161.1 L492.0 158.9 L492.7 156.6 L493.4 154.3 L494.1 151.9 L494.8 149.5 L495.5 147.1 L496.2 144.6 L496.9 142.2 L497.6 139.8 L498.3 137.3 L499.0 134.9 L499.7 132.5 L500.4 130.1 L501.1 127.7 L501.8 125.4 L502.5 123.1 L503.2 120.8 L503.9 118.6 L504.6 116.5 L505.3 114.4 L506.0 112.4 L506.7 110.4 L507.4 108.6 L508.1 106.8 L508.8 105.1 L509.5 103.5 L510.2 101.9 L510.9 100.5 L511.6 99.2 L512.3 98.0 L513.0 97.0 L513.7 96.0 L514.4 95.2 L515.1 94.5 L515.8 94.0 L516.5 93.5 L517.2 93.3 L517.9 93.2 L518.6 93.3 L519.3 93.5 L520.0 93.8 L520.7 94.3 L521.4 94.8 L522.1 95.5 L522.8 96.2 L523.5 96.9 L524.2 97.7 L524.9 98.6 L525.6 99.4 L526.3 100.2 L527.0 101.0 L527.7 101.8 L528.4 102.5 L529.1 103.1 L529.8 103.6 L530.5 104.1 L531.2 104.7 L531.9 105.2 L532.6 105.7 L533.3 106.3 L534.0 107.0 L534.7 107.8 L534.7 113.6 L534.0 112.7 L533.3 111.6 L532.6 110.6 L531.9 109.5 L531.2 108.4 L530.5 107.3 L529.8 106.2 L529.1 105.1 L528.4 104.1 L527.7 103.0 L527.0 102.0 L526.3 101.1 L525.6 100.2 L524.9 99.4 L524.2 98.6 L523.5 98.0 L522.8 97.4 L522.1 96.9 L521.4 96.6 L520.7 96.3 L520.0 96.2 L519.3 96.3 L518.6 96.5 L517.9 96.8 L517.2 97.3 L516.5 98.0 L515.8 98.8 L515.1 99.7 L514.4 100.8 L513.7 102.1 L513.0 103.4 L512.3 104.9 L511.6 106.5 L510.9 108.2 L510.2 110.0 L509.5 111.9 L508.8 113.8 L508.1 115.9 L507.4 118.0 L506.7 120.2 L506.0 122.4 L505.3 124.7 L504.6 127.0 L503.9 129.4 L503.2 131.8 L502.5 134.2 L501.8 136.6 L501.1 139.1 L500.4 141.6 L499.7 144.0 L499.0 146.5 L498.3 148.9 L497.6 151.3 L496.9 153.7 L496.2 156.0 L495.5 158.3 L494.8 160.6 L494.1 162.9 L493.4 165.1 L492.7 167.3 L492.0 169.4 L491.3 171.6 L490.6 173.7 L489.9 175.8 L489.2 177.9 L488.5 179.9 L487.8 181.9 L487.1 183.9 L486.4 185.9 L485.7 187.9 L485.0 189.8 L484.3 191.7 L483.6 193.6 L482.9 195.5 L482.2 197.3 L481.5 199.1 L480.8 200.8 L480.1 202.5 L479.4 204.1 L478.7 205.7 L478.0 207.2 L477.3 208.6 L476.6 209.9 L475.9 211.2 L475.2 212.4 L474.5 213.5 L473.8 214.5 L473.1 215.4 L472.4 216.2 L471.7 216.9 L471.0 217.5 L470.3 218.1 L469.6 218.5 L468.9 218.9 L468.2 219.2 L467.5 219.5 L466.8 219.6 L466.1 219.8 L465.4 219.8 L464.7 219.8 L464.0 219.8 L463.3 219.7 L462.6 219.5 L461.9 219.4 L461.2 219.2 L460.5 218.9 L459.8 218.6 L459.1 218.3 L458.4 218.0 L457.7 217.6 L457.0 217.3 L456.3 216.9 L455.6 216.5 L454.9 216.1 L454.2 215.6 L453.5 215.2 L452.8 214.8 L452.1 214.4 L451.4 214.0 L450.7 213.6 L450.0 213.2 L449.3 212.9 L448.6 212.5 L447.9 212.2 L447.2 211.9 L446.5 211.6 L445.8 211.3 L445.1 211.1 L444.4 210.9 L443.7 210.6 L443.0 210.4 L442.3 210.2 L441.6 210.1 L440.9 209.9 L440.2 209.7 L439.5 209.6 L438.8 209.4 L438.1 209.3 L437.4 209.2 L436.7 209.0 L436.0 208.9 L435.3 208.8 L434.6 208.6 L433.9 208.5 L433.2 208.4 L432.5 208.2 L431.8 208.1 L431.1 207.9 L430.4 207.8 L429.7 207.6 L429.0 207.5 L428.3 207.3 L427.6 207.1 L426.9 206.9 L426.2 206.7 L425.5 206.5 L424.8 206.2 L424.1 205.9 L423.4 205.6 L422.7 205.3 L422.0 205.0 L421.3 204.6 L420.6 204.1 L419.9 203.6 L419.2 203.1 L418.5 202.6 L417.8 202.0 L417.1 201.3 L416.4 200.7 L415.7 200.0 L415.0 199.2 L414.3 198.5 L413.6 197.7 L412.9 196.9 L412.2 196.1 L411.5 195.3 L410.8 194.5 L410.1 193.6 L409.4 192.7 L408.7 191.9 L408.0 191.0 L407.3 190.1 L406.6 189.3 L405.9 188.4 L405.2 187.5 L404.5 186.7 L403.8 185.8 L403.1 185.0 L402.4 184.1 L401.7 183.3 L401.0 182.5 L400.3 181.7 L399.6 181.0 L398.9 180.2 L398.2 179.5 L397.5 178.8 L396.8 178.1 L396.1 177.5 L395.4 176.9 L394.7 176.3 L394.0 175.7 L393.3 175.2 L392.6 174.7 L391.9 174.2 L391.2 173.7 L390.5 173.3 L389.8 172.9 L389.1 172.5 L388.4 172.1 L387.7 171.7 L387.0 171.3 L386.3 170.9 L385.6 170.5 L384.9 170.1 L384.2 169.7 L383.5 169.3 L382.8 168.9 L382.1 168.5 L381.4 168.1 L380.7 167.7 L380.0 167.2 L379.3 166.7 L378.6 166.2 L377.9 165.7 L377.2 165.1 L376.5 164.6 L375.8 163.9 L375.1 163.3 L374.4 162.6 L373.7 161.9 L373.0 161.2 L372.3 160.5 L371.6 159.7 L370.9 158.9 L370.2 158.1 L369.5 157.3 L368.8 156.5 L368.1 155.7 L367.4 154.9 L366.7 154.0 L366.0 153.2 L365.3 152.4 L364.6 151.6 L363.9 150.8 L363.2 150.0 L362.5 149.3 L361.8 148.5 L361.1 147.8 L360.4 147.1 L359.7 146.4 L359.0 145.7 L358.3 145.0 L357.6 144.3 L356.9 143.7 L356.2 143.1 L355.5 142.4 L354.8 141.8 L354.1 141.2 L353.4 140.6 L352.7 140.0 L352.0 139.4 L351.3 138.8 L350.6 138.2 L349.9 137.7 L349.2 137.1 L348.5 136.5 L347.8 135.9 L347.1 135.2 L346.4 134.6 L345.7 134.0 L345.0 133.4 L344.3 132.7 L343.6 132.1 L342.9 131.4 L342.2 130.7 L341.5 130.0 L340.8 129.3 L340.1 128.6 L339.4 127.9 L338.7 127.1 L338.0 126.4 L337.3 125.7 L336.6 125.0 L335.9 124.2 L335.2 123.5 L334.5 122.8 L333.8 122.1 L333.1 121.5 L332.4 120.8 L331.7 120.2 L331.0 119.6 L330.3 119.0 L329.6 118.4 L328.9 117.9 L328.2 117.4 L327.5 117.0 L326.8 116.5Z" fill="#bdbdbd"/>
<path d="M472.45 18.5V228.5" stroke="#555" stroke-width="1.3" fill="none"/>
<path d="M476.83 18.5V228.5" stroke="#787878" stroke-width="1.45" stroke-dasharray="3.7 2.9" fill="none"/>
<path d="M328.4 51.5 L329.1 52.3 L329.8 53.2 L330.5 54.1 L331.2 55.0 L331.9 56.0 L332.6 57.0 L333.3 58.0 L334.0 59.0 L334.7 60.0 L335.4 61.1 L336.1 62.1 L336.8 63.2 L337.5 64.2 L338.2 65.2 L338.9 66.3 L339.6 67.3 L340.3 68.3 L341.0 69.2 L341.7 70.2 L342.4 71.1 L343.1 71.9 L343.8 72.7 L344.5 73.5 L345.2 74.2 L345.9 74.8 L346.6 75.4 L347.3 75.9 L348.0 76.3 L348.7 76.8 L349.4 77.2 L350.1 77.6 L350.8 78.0 L351.5 78.5 L352.2 79.1 L352.9 79.7 L353.6 80.3 L354.3 81.0 L355.0 81.7 L355.7 82.5 L356.4 83.3 L357.1 84.1 L357.8 85.0 L358.5 85.8 L359.2 86.7 L359.9 87.7 L360.6 88.6 L361.3 89.6 L362.0 90.5 L362.7 91.5 L363.4 92.5 L364.1 93.5 L364.8 94.5 L365.5 95.5 L366.2 96.5 L366.9 97.5 L367.6 98.5 L368.3 99.5 L369.0 100.5 L369.7 101.4 L370.4 102.4 L371.1 103.3 L371.8 104.3 L372.5 105.2 L373.2 106.0 L373.9 106.9 L374.6 107.7 L375.3 108.5 L376.0 109.3 L376.7 110.0 L377.4 110.8 L378.1 111.5 L378.8 112.1 L379.5 112.8 L380.2 113.5 L380.9 114.1 L381.6 114.7 L382.3 115.3 L383.0 115.9 L383.7 116.5 L384.4 117.0 L385.1 117.6 L385.8 118.1 L386.5 118.6 L387.2 119.2 L387.9 119.7 L388.6 120.2 L389.3 120.7 L390.0 121.1 L390.7 121.6 L391.4 122.1 L392.1 122.6 L392.8 123.0 L393.5 123.5 L394.2 124.0 L394.9 124.4 L395.6 124.9 L396.3 125.4 L397.0 125.9 L397.7 126.3 L398.4 126.8 L399.1 127.3 L399.8 127.8 L400.5 128.3 L401.2 128.8 L401.9 129.3 L402.6 129.8 L403.3 130.3 L404.0 130.8 L404.7 131.4 L405.4 131.9 L406.1 132.4 L406.8 133.0 L407.5 133.5 L408.2 134.1 L408.9 134.7 L409.6 135.2 L410.3 135.8 L411.0 136.4 L411.7 137.0 L412.4 137.6 L413.1 138.2 L413.8 138.9 L414.5 139.5 L415.2 140.1 L415.9 140.8 L416.6 141.5 L417.3 142.1 L418.0 142.8 L418.7 143.5 L419.4 144.2 L420.1 144.9 L420.8 145.6 L421.5 146.3 L422.2 147.0 L422.9 147.7 L423.6 148.4 L424.3 149.1 L425.0 149.8 L425.7 150.5 L426.4 151.2 L427.1 151.9 L427.8 152.5 L428.5 153.2 L429.2 153.9 L429.9 154.5 L430.6 155.1 L431.3 155.8 L432.0 156.4 L432.7 157.0 L433.4 157.5 L434.1 158.1 L434.8 158.6 L435.5 159.2 L436.2 159.7 L436.9 160.1 L437.6 160.6 L438.3 161.0 L439.0 161.4 L439.7 161.8 L440.4 162.1 L441.1 162.5 L441.8 162.7 L442.5 163.0 L443.2 163.2 L443.9 163.4 L444.6 163.5 L445.3 163.6 L446.0 163.6 L446.7 163.7 L447.4 163.6 L448.1 163.5 L448.8 163.4 L449.5 163.2 L450.2 163.0 L450.9 162.7 L451.6 162.4 L452.3 162.0 L453.0 161.5 L453.7 161.1 L454.4 160.5 L455.1 160.0 L455.8 159.3 L456.5 158.7 L457.2 158.0 L457.9 157.2 L458.6 156.5 L459.3 155.7 L460.0 154.8 L460.7 154.0 L461.4 153.1 L462.1 152.2 L462.8 151.2 L463.5 150.2 L464.2 149.2 L464.9 148.2 L465.6 147.2 L466.3 146.1 L467.0 145.1 L467.7 144.0 L468.4 142.8 L469.1 141.7 L469.8 140.6 L470.5 139.4 L471.2 138.2 L471.9 137.0 L472.6 135.7 L473.3 134.5 L474.0 133.2 L474.7 131.9 L475.4 130.6 L476.1 129.2 L476.8 127.8 L477.5 126.4 L478.2 125.0 L478.9 123.6 L479.6 122.1 L480.3 120.6 L481.0 119.1 L481.7 117.5 L482.4 116.0 L483.1 114.4 L483.8 112.7 L484.5 111.1 L485.2 109.4 L485.9 107.6 L486.6 105.9 L487.3 104.1 L488.0 102.2 L488.7 100.3 L489.4 98.4 L490.1 96.4 L490.8 94.4 L491.5 92.3 L492.2 90.2 L492.9 88.1 L493.6 85.9 L494.3 83.7 L495.0 81.4 L495.7 79.2 L496.4 76.9 L497.1 74.7 L497.8 72.5 L498.5 70.3 L499.2 68.1 L499.9 66.1 L500.6 64.0 L501.3 62.1 L502.0 60.2 L502.7 58.5 L503.4 56.8 L504.1 55.2 L504.8 53.7 L505.5 52.3 L506.2 51.0 L506.9 49.7 L507.6 48.5 L508.3 47.4 L509.0 46.3 L509.7 45.3 L510.4 44.3 L511.1 43.3 L511.8 42.4 L512.5 41.5 L513.2 40.6 L513.9 39.8 L514.6 38.9 L515.3 38.1 L516.0 37.3 L516.7 36.6 L517.4 35.9 L518.1 35.3 L518.8 34.7 L519.5 34.2 L520.2 33.8 L520.9 33.4 L521.6 33.2 L522.3 33.0 L523.0 32.9 L523.7 33.0 L524.4 33.2 L525.1 33.5 L525.8 34.0 L526.5 34.5 L527.2 35.2 L527.9 36.0 L528.6 37.0 L529.3 38.0 L530.0 39.1 L530.7 40.3 L531.4 41.6 L532.1 43.0 L532.8 44.5 L533.5 46.0 L534.2 47.6 L534.9 49.2 L535.6 50.9 L536.9 54.2" stroke="#000" stroke-width="1.6" stroke-dasharray="3.7 2.6" fill="none" stroke-linejoin="round"/>
<path d="M328.4 113.7 L329.1 114.4 L329.8 115.0 L330.5 115.6 L331.2 116.3 L331.9 116.9 L332.6 117.5 L333.3 118.2 L334.0 118.8 L334.7 119.4 L335.4 120.1 L336.1 120.7 L336.8 121.4 L337.5 122.0 L338.2 122.6 L338.9 123.3 L339.6 123.9 L340.3 124.6 L341.0 125.2 L341.7 125.8 L342.4 126.5 L343.1 127.1 L343.8 127.8 L344.5 128.4 L345.2 129.0 L345.9 129.7 L346.6 130.3 L347.3 131.0 L348.0 131.6 L348.7 132.3 L349.4 132.9 L350.1 133.5 L350.8 134.2 L351.5 134.8 L352.2 135.5 L352.9 136.1 L353.6 136.8 L354.3 137.4 L355.0 138.1 L355.7 138.7 L356.4 139.4 L357.1 140.0 L357.8 140.7 L358.5 141.3 L359.2 142.0 L359.9 142.6 L360.6 143.3 L361.3 143.9 L362.0 144.6 L362.7 145.2 L363.4 145.9 L364.1 146.5 L364.8 147.2 L365.5 147.8 L366.2 148.5 L366.9 149.1 L367.6 149.8 L368.3 150.4 L369.0 151.1 L369.7 151.8 L370.4 152.4 L371.1 153.1 L371.8 153.7 L372.5 154.4 L373.2 155.0 L373.9 155.7 L374.6 156.3 L375.3 157.0 L376.0 157.7 L376.7 158.3 L377.4 159.0 L378.1 159.6 L378.8 160.3 L379.5 161.0 L380.2 161.6 L380.9 162.3 L381.6 162.9 L382.3 163.6 L383.0 164.3 L383.7 164.9 L384.4 165.6 L385.1 166.2 L385.8 166.9 L386.5 167.6 L387.2 168.2 L387.9 168.9 L388.6 169.6 L389.3 170.2 L390.0 170.9 L390.7 171.6 L391.4 172.2 L392.1 172.9 L392.8 173.6 L393.5 174.2 L394.2 174.9 L394.9 175.5 L395.6 176.2 L396.3 176.9 L397.0 177.5 L397.7 178.2 L398.4 178.9 L399.1 179.5 L399.8 180.2 L400.5 180.8 L401.2 181.5 L401.9 182.1 L402.6 182.8 L403.3 183.4 L404.0 184.1 L404.7 184.7 L405.4 185.4 L406.1 186.0 L406.8 186.7 L407.5 187.3 L408.2 187.9 L408.9 188.6 L409.6 189.2 L410.3 189.8 L411.0 190.4 L411.7 191.0 L412.4 191.6 L413.1 192.2 L413.8 192.7 L414.5 193.3 L415.2 193.8 L415.9 194.3 L416.6 194.8 L417.3 195.3 L418.0 195.7 L418.7 196.1 L419.4 196.5 L420.1 196.8 L420.8 197.2 L421.5 197.4 L422.2 197.7 L422.9 197.9 L423.6 198.2 L424.3 198.4 L425.0 198.5 L425.7 198.7 L426.4 198.9 L427.1 199.0 L427.8 199.2 L428.5 199.4 L429.2 199.5 L429.9 199.7 L430.6 199.8 L431.3 200.0 L432.0 200.1 L432.7 200.3 L433.4 200.5 L434.1 200.6 L434.8 200.8 L435.5 200.9 L436.2 201.1 L436.9 201.3 L437.6 201.5 L438.3 201.6 L439.0 201.8 L439.7 202.0 L440.4 202.2 L441.1 202.4 L441.8 202.6 L442.5 202.8 L443.2 203.0 L443.9 203.2 L444.6 203.4 L445.3 203.7 L446.0 203.9 L446.7 204.2 L447.4 204.4 L448.1 204.7 L448.8 205.0 L449.5 205.3 L450.2 205.6 L450.9 205.9 L451.6 206.2 L452.3 206.5 L453.0 206.9 L453.7 207.2 L454.4 207.6 L455.1 208.0 L455.8 208.4 L456.5 208.8 L457.2 209.2 L457.9 209.6 L458.6 210.0 L459.3 210.4 L460.0 210.8 L460.7 211.2 L461.4 211.5 L462.1 211.9 L462.8 212.1 L463.5 212.4 L464.2 212.6 L464.9 212.8 L465.6 212.9 L466.3 213.0 L467.0 213.0 L467.7 213.0 L468.4 212.9 L469.1 212.7 L469.8 212.4 L470.5 212.1 L471.2 211.7 L471.9 211.2 L472.6 210.6 L473.3 210.0 L474.0 209.2 L474.7 208.4 L475.4 207.5 L476.1 206.6 L476.8 205.5 L477.5 204.4 L478.2 203.2 L478.9 202.0 L479.6 200.7 L480.3 199.3 L481.0 197.8 L481.7 196.3 L482.4 194.7 L483.1 193.1 L483.8 191.4 L484.5 189.6 L485.2 187.8 L485.9 185.9 L486.6 184.0 L487.3 182.0 L488.0 179.9 L488.7 177.9 L489.4 175.7 L490.1 173.6 L490.8 171.4 L491.5 169.1 L492.2 166.9 L492.9 164.5 L493.6 162.2 L494.3 159.8 L495.0 157.4 L495.7 155.0 L496.4 152.6 L497.1 150.1 L497.8 147.7 L498.5 145.2 L499.2 142.8 L499.9 140.3 L500.6 137.9 L501.3 135.4 L502.0 133.0 L502.7 130.6 L503.4 128.3 L504.1 125.9 L504.8 123.7 L505.5 121.4 L506.2 119.2 L506.9 117.1 L507.6 115.1 L508.3 113.1 L509.0 111.1 L509.7 109.3 L510.4 107.6 L511.1 105.9 L511.8 104.4 L512.5 102.9 L513.2 101.6 L513.9 100.4 L514.6 99.3 L515.3 98.3 L516.0 97.5 L516.7 96.8 L517.4 96.3 L518.1 95.9 L518.8 95.7 L519.5 95.6 L520.2 95.6 L520.9 95.7 L521.6 95.9 L522.3 96.3 L523.0 96.7 L523.7 97.2 L524.4 97.8 L525.1 98.4 L525.8 99.1 L526.5 99.9 L527.2 100.6 L527.9 101.4 L528.6 102.3 L529.3 103.1 L530.0 103.9 L530.7 104.7 L531.4 105.5 L532.1 106.2 L532.8 107.0 L533.5 107.6 L534.2 108.3 L534.9 108.8 L535.6 109.3 L536.9 109.9" stroke="#000" stroke-width="1.6" fill="none" stroke-linejoin="round"/>
<path d="M326.50 18.50V228.50H537.09M326.50 228.50v-2.1M368.20 228.50v-2.1M409.90 228.50v-2.1M451.60 228.50v-2.1M493.30 228.50v-2.1M535.00 228.50v-2.1M326.50 228.50h2.1M326.50 202.25h2.1M326.50 176.00h2.1M326.50 149.75h2.1M326.50 123.50h2.1M326.50 97.25h2.1M326.50 71.00h2.1M326.50 44.75h2.1M326.50 18.50h2.1" stroke="#b4b4b4" stroke-width="1.3" fill="none"/>
<text x="326.5" y="241.1" text-anchor="middle" font-family="Liberation Serif, serif" font-size="10.6" fill="#222" stroke="#222" stroke-width="0.25">0</text>
<text x="368.2" y="241.1" text-anchor="middle" font-family="Liberation Serif, serif" font-size="10.6" fill="#222" stroke="#222" stroke-width="0.25">20</text>
<text x="409.9" y="241.1" text-anchor="middle" font-family="Liberation Serif, serif" font-size="10.6" fill="#222" stroke="#222" stroke-width="0.25">40</text>
<text x="451.6" y="241.1" text-anchor="middle" font-family="Liberation Serif, serif" font-size="10.6" fill="#222" stroke="#222" stroke-width="0.25">60</text>
<text x="493.3" y="241.1" text-anchor="middle" font-family="Liberation Serif, serif" font-size="10.6" fill="#222" stroke="#222" stroke-width="0.25">80</text>
<text x="535.0" y="241.1" text-anchor="middle" font-family="Liberation Serif, serif" font-size="10.6" fill="#222" stroke="#222" stroke-width="0.25">100</text>
<text x="322.5" y="231.8" text-anchor="end" font-family="Liberation Serif, serif" font-size="10.6" fill="#222" stroke="#222" stroke-width="0.25">10</text>
<text transform="translate(312.2 231.8) scale(1.32 1)" text-anchor="end" font-family="Liberation Serif, serif" font-size="10.6" fill="#222" stroke="#222" stroke-width="0.25">−</text>
<text x="322.5" y="205.6" text-anchor="end" font-family="Liberation Serif, serif" font-size="10.6" fill="#222" stroke="#222" stroke-width="0.25">0</text>
<text x="322.5" y="179.3" text-anchor="end" font-family="Liberation Serif, serif" font-size="10.6" fill="#222" stroke="#222" stroke-width="0.25">10</text>
<text x="322.5" y="153.1" text-anchor="end" font-family="Liberation Serif, serif" font-size="10.6" fill="#222" stroke="#222" stroke-width="0.25">20</text>
<text x="322.5" y="126.8" text-anchor="end" font-family="Liberation Serif, serif" font-size="10.6" fill="#222" stroke="#222" stroke-width="0.25">30</text>
<text x="322.5" y="100.5" text-anchor="end" font-family="Liberation Serif, serif" font-size="10.6" fill="#222" stroke="#222" stroke-width="0.25">40</text>
<text x="322.5" y="74.3" text-anchor="end" font-family="Liberation Serif, serif" font-size="10.6" fill="#222" stroke="#222" stroke-width="0.25">50</text>
<text x="322.5" y="48.0" text-anchor="end" font-family="Liberation Serif, serif" font-size="10.6" fill="#222" stroke="#222" stroke-width="0.25">60</text>
<text x="322.5" y="21.8" text-anchor="end" font-family="Liberation Serif, serif" font-size="10.6" fill="#222" stroke="#222" stroke-width="0.25">70</text>
<text x="431.8" y="257.6" text-anchor="middle" font-family="Liberation Sans, sans-serif" font-size="12.1" fill="#333">Gait Cycle [%]</text>
<text transform="translate(298.9 123.5) rotate(-90)" text-anchor="middle" font-family="Liberation Sans, sans-serif" font-size="12.1" fill="#333">Joint Angle [deg]</text>
<text x="431.8" y="14.5" text-anchor="middle" font-family="Liberation Sans, sans-serif" font-weight="bold" font-size="10.8" fill="#000">Right Hip Angle</text>
</g>
<g id="BL">
<path d="M38.1 392.0 L38.8 392.7 L39.5 393.3 L40.2 393.9 L40.9 394.4 L41.6 394.9 L42.3 395.4 L43.0 395.8 L43.7 396.2 L44.4 396.5 L45.1 396.8 L45.8 397.1 L46.5 397.2 L47.2 397.4 L47.9 397.4 L48.6 397.6 L49.3 397.7 L50.0 398.3 L50.7 399.1 L51.4 400.2 L52.1 401.2 L52.8 402.5 L53.5 403.9 L54.2 405.3 L54.9 406.8 L55.6 408.3 L56.3 409.9 L57.0 411.3 L57.7 412.7 L58.4 414.0 L59.1 415.4 L59.8 416.9 L60.5 418.5 L61.2 419.9 L61.9 420.9 L62.6 421.7 L63.3 422.4 L64.0 423.1 L64.7 423.8 L65.4 424.5 L66.1 425.4 L66.8 426.3 L67.5 427.2 L68.2 428.1 L68.9 429.0 L69.6 429.9 L70.3 430.7 L71.0 431.5 L71.7 432.2 L72.4 433.0 L73.1 433.7 L73.8 434.4 L74.5 435.0 L75.2 435.7 L75.9 436.3 L76.6 437.0 L77.3 437.6 L78.0 438.2 L78.7 438.8 L79.4 439.4 L80.1 439.9 L80.8 440.5 L81.5 441.1 L82.2 441.6 L82.9 442.2 L83.6 442.7 L84.3 443.2 L85.0 443.6 L85.7 444.0 L86.4 444.4 L87.1 444.7 L87.8 445.1 L88.5 445.3 L89.2 445.6 L89.9 445.7 L90.6 445.9 L91.3 446.1 L92.0 446.2 L92.7 446.3 L93.4 446.4 L94.1 446.5 L94.8 446.6 L95.5 446.6 L96.2 446.6 L96.9 446.4 L97.6 446.3 L98.3 446.0 L99.0 445.8 L99.7 445.6 L100.4 445.3 L101.1 445.1 L101.8 445.0 L102.5 444.9 L103.2 444.7 L103.9 444.6 L104.6 444.5 L105.3 444.4 L106.0 444.3 L106.7 444.1 L107.4 444.0 L108.1 443.8 L108.8 443.6 L109.5 443.3 L110.2 443.1 L110.9 442.8 L111.6 442.5 L112.3 442.2 L113.0 441.8 L113.7 441.4 L114.4 441.0 L115.1 440.4 L115.8 439.7 L116.5 438.9 L117.2 438.1 L117.9 437.3 L118.6 436.3 L119.3 435.3 L120.0 434.3 L120.7 433.2 L121.4 432.1 L122.1 430.9 L122.8 429.8 L123.5 428.6 L124.2 427.4 L124.9 426.2 L125.6 425.2 L126.3 424.2 L127.0 423.2 L127.7 422.3 L128.4 421.3 L129.1 420.4 L129.8 419.3 L130.5 418.2 L131.2 417.3 L131.9 416.7 L132.6 416.1 L133.3 415.6 L134.0 415.2 L134.7 414.9 L135.4 414.7 L136.1 414.5 L136.8 414.3 L137.5 414.2 L138.2 414.1 L138.9 414.0 L139.6 413.8 L140.3 413.7 L141.0 413.5 L141.7 413.4 L142.4 413.2 L143.1 413.1 L143.8 412.9 L144.5 412.8 L145.2 412.6 L145.9 412.4 L146.6 412.2 L147.3 412.0 L148.0 411.7 L148.7 411.4 L149.4 411.1 L150.1 410.7 L150.8 410.3 L151.5 409.8 L152.2 409.3 L152.9 408.7 L153.6 408.1 L154.3 407.3 L155.0 406.5 L155.7 405.6 L156.4 404.7 L157.1 403.7 L157.8 402.6 L158.5 401.6 L159.2 400.4 L159.9 399.1 L160.6 397.7 L161.3 396.4 L162.0 395.0 L162.7 393.6 L163.4 392.2 L164.1 390.7 L164.8 389.4 L165.5 388.1 L166.2 386.9 L166.9 385.8 L167.6 384.7 L168.3 383.5 L169.0 382.4 L169.7 381.2 L170.4 380.1 L171.1 378.8 L171.8 377.5 L172.5 376.0 L173.2 374.4 L173.9 372.7 L174.6 371.0 L175.3 369.4 L176.0 367.8 L176.7 366.2 L177.4 364.6 L178.1 363.0 L178.8 361.3 L179.5 359.6 L180.2 357.8 L180.9 356.0 L181.6 354.1 L182.3 352.2 L183.0 350.2 L183.7 348.1 L184.4 346.0 L185.1 343.9 L185.8 341.8 L186.5 339.6 L187.2 337.4 L187.9 335.1 L188.6 332.9 L189.3 330.8 L190.0 328.8 L190.7 327.1 L191.4 325.5 L192.1 324.2 L192.8 322.9 L193.5 321.6 L194.2 320.1 L194.9 318.5 L195.6 316.6 L196.3 314.7 L197.0 312.7 L197.7 310.8 L198.4 309.1 L199.1 307.8 L199.8 306.6 L200.5 305.4 L201.2 304.4 L201.9 303.6 L202.6 303.1 L203.3 303.0 L204.0 303.2 L204.7 303.5 L205.4 303.9 L206.1 304.4 L206.8 304.9 L207.5 305.5 L208.2 306.3 L208.9 307.3 L209.6 307.9 L210.3 308.0 L211.0 307.6 L211.7 307.0 L212.4 306.4 L213.1 305.9 L213.8 305.5 L214.5 305.0 L215.2 304.7 L215.9 304.5 L216.6 304.6 L217.3 304.8 L218.0 305.2 L218.7 305.7 L219.4 306.3 L220.1 307.0 L220.8 307.8 L221.5 308.9 L222.2 310.7 L222.9 312.9 L223.6 315.1 L224.3 317.3 L225.0 319.7 L225.7 322.0 L226.4 324.2 L227.1 326.4 L227.8 328.4 L228.5 330.4 L229.2 332.3 L229.9 334.2 L230.6 336.0 L231.3 337.7 L232.0 339.3 L232.7 340.9 L233.4 342.7 L234.1 345.0 L234.8 347.7 L235.5 351.0 L236.2 354.9 L236.9 360.3 L237.6 367.8 L238.3 372.4 L239.0 375.6 L239.7 378.1 L240.4 380.5 L241.1 383.2 L241.8 386.1 L242.5 389.0 L243.2 392.0 L243.9 395.0 L244.6 398.0 L244.6 418.0 L243.9 417.3 L243.2 416.6 L242.5 415.8 L241.8 415.0 L241.1 414.1 L240.4 413.2 L239.7 412.3 L239.0 411.4 L238.3 410.4 L237.6 409.4 L236.9 408.4 L236.2 407.3 L235.5 406.1 L234.8 405.0 L234.1 403.8 L233.4 402.5 L232.7 401.3 L232.0 400.0 L231.3 398.7 L230.6 397.5 L229.9 396.3 L229.2 394.9 L228.5 393.5 L227.8 392.0 L227.1 390.3 L226.4 388.3 L225.7 386.0 L225.0 383.4 L224.3 380.6 L223.6 377.6 L222.9 374.5 L222.2 371.0 L221.5 367.1 L220.8 363.1 L220.1 359.5 L219.4 356.3 L218.7 353.3 L218.0 350.5 L217.3 347.7 L216.6 345.0 L215.9 342.7 L215.2 340.6 L214.5 339.2 L213.8 340.6 L213.1 344.2 L212.4 346.8 L211.7 349.8 L211.0 352.9 L210.3 356.2 L209.6 359.5 L208.9 362.9 L208.2 366.4 L207.5 370.0 L206.8 373.5 L206.1 377.0 L205.4 380.7 L204.7 384.5 L204.0 388.2 L203.3 391.7 L202.6 394.7 L201.9 397.0 L201.2 398.8 L200.5 401.0 L199.8 403.6 L199.1 406.2 L198.4 408.7 L197.7 410.8 L197.0 412.8 L196.3 414.7 L195.6 416.5 L194.9 418.2 L194.2 419.8 L193.5 421.4 L192.8 422.9 L192.1 424.3 L191.4 425.7 L190.7 427.1 L190.0 428.5 L189.3 430.0 L188.6 431.4 L187.9 432.7 L187.2 433.6 L186.5 434.5 L185.8 435.3 L185.1 436.1 L184.4 436.8 L183.7 437.5 L183.0 438.1 L182.3 438.7 L181.6 439.3 L180.9 439.9 L180.2 440.5 L179.5 441.0 L178.8 441.6 L178.1 442.1 L177.4 442.6 L176.7 443.0 L176.0 443.5 L175.3 444.0 L174.6 444.4 L173.9 444.8 L173.2 445.3 L172.5 445.7 L171.8 446.1 L171.1 446.4 L170.4 446.8 L169.7 447.1 L169.0 447.5 L168.3 447.8 L167.6 448.0 L166.9 448.3 L166.2 448.6 L165.5 448.8 L164.8 449.1 L164.1 449.5 L163.4 449.8 L162.7 450.2 L162.0 450.5 L161.3 450.9 L160.6 451.3 L159.9 451.7 L159.2 452.1 L158.5 452.5 L157.8 452.9 L157.1 453.2 L156.4 453.5 L155.7 453.9 L155.0 454.2 L154.3 454.5 L153.6 454.9 L152.9 455.2 L152.2 455.6 L151.5 455.9 L150.8 456.3 L150.1 456.6 L149.4 457.0 L148.7 457.4 L148.0 457.7 L147.3 458.1 L146.6 458.4 L145.9 458.8 L145.2 459.1 L144.5 459.4 L143.8 459.7 L143.1 460.0 L142.4 460.3 L141.7 460.6 L141.0 460.9 L140.3 461.1 L139.6 461.4 L138.9 461.6 L138.2 461.8 L137.5 462.0 L136.8 462.1 L136.1 462.3 L135.4 462.5 L134.7 462.6 L134.0 462.7 L133.3 462.8 L132.6 462.8 L131.9 462.8 L131.2 462.8 L130.5 462.8 L129.8 462.8 L129.1 462.8 L128.4 462.8 L127.7 462.8 L127.0 462.8 L126.3 462.8 L125.6 462.8 L124.9 462.7 L124.2 462.6 L123.5 462.5 L122.8 462.4 L122.1 462.3 L121.4 462.1 L120.7 462.0 L120.0 461.9 L119.3 461.7 L118.6 461.5 L117.9 461.3 L117.2 461.0 L116.5 460.8 L115.8 460.5 L115.1 460.2 L114.4 460.0 L113.7 459.7 L113.0 459.5 L112.3 459.3 L111.6 459.0 L110.9 458.8 L110.2 458.5 L109.5 458.3 L108.8 458.0 L108.1 457.8 L107.4 457.5 L106.7 457.3 L106.0 457.0 L105.3 456.7 L104.6 456.4 L103.9 456.1 L103.2 455.8 L102.5 455.5 L101.8 455.2 L101.1 454.9 L100.4 454.6 L99.7 454.2 L99.0 453.9 L98.3 453.5 L97.6 453.1 L96.9 452.8 L96.2 452.4 L95.5 452.0 L94.8 451.6 L94.1 451.2 L93.4 450.7 L92.7 450.3 L92.0 449.8 L91.3 449.3 L90.6 448.8 L89.9 448.4 L89.2 447.9 L88.5 447.5 L87.8 447.2 L87.1 446.9 L86.4 446.6 L85.7 446.3 L85.0 446.1 L84.3 445.8 L83.6 445.6 L82.9 445.4 L82.2 445.2 L81.5 444.9 L80.8 444.7 L80.1 444.5 L79.4 444.3 L78.7 444.1 L78.0 444.0 L77.3 443.8 L76.6 443.7 L75.9 443.5 L75.2 443.4 L74.5 443.2 L73.8 443.1 L73.1 442.9 L72.4 442.7 L71.7 442.5 L71.0 442.3 L70.3 442.1 L69.6 441.9 L68.9 441.6 L68.2 441.2 L67.5 440.9 L66.8 440.5 L66.1 440.1 L65.4 439.7 L64.7 439.2 L64.0 438.8 L63.3 438.3 L62.6 437.8 L61.9 437.3 L61.2 436.8 L60.5 436.3 L59.8 435.9 L59.1 435.4 L58.4 434.9 L57.7 434.3 L57.0 433.8 L56.3 433.2 L55.6 432.7 L54.9 432.1 L54.2 431.5 L53.5 430.9 L52.8 430.3 L52.1 429.7 L51.4 429.2 L50.7 428.6 L50.0 428.0 L49.3 427.4 L48.6 426.8 L47.9 426.3 L47.2 425.7 L46.5 425.1 L45.8 424.5 L45.1 423.9 L44.4 423.4 L43.7 422.8 L43.0 422.2 L42.3 421.6 L41.6 421.0 L40.9 420.4 L40.2 419.8 L39.5 419.2 L38.8 418.6 L38.1 418.0Z" fill="#dedede"/>
<path d="M209.6 325.2 L211.0 328.0 L212.2 331.5 L213.8 337.5 L215.0 341.5 L214.3 343.5 L213.6 345.0 L212.4 337.5 L210.9 330.9Z" fill="#fff"/>
<path d="M38.1 392.0 L38.8 392.9 L39.5 393.7 L40.2 394.5 L40.9 395.2 L41.6 395.9 L42.3 396.6 L43.0 396.9 L43.7 397.0 L44.4 397.1 L45.1 397.1 L45.8 397.2 L46.5 397.3 L47.2 397.6 L47.9 398.0 L48.6 398.4 L49.3 399.1 L50.0 400.1 L50.7 401.3 L51.4 402.5 L52.1 403.8 L52.8 405.3 L53.5 406.8 L54.2 408.2 L54.9 409.5 L55.6 410.9 L56.3 412.3 L57.0 413.9 L57.7 415.4 L58.4 416.9 L59.1 418.2 L59.8 419.3 L60.5 420.4 L61.2 421.4 L61.9 422.4 L62.6 423.4 L63.3 424.3 L64.0 425.2 L64.7 426.2 L65.4 427.1 L66.1 427.9 L66.8 428.8 L67.5 429.6 L68.2 430.5 L68.9 431.3 L69.6 432.1 L70.3 432.9 L71.0 433.7 L71.7 434.5 L72.4 435.3 L73.1 436.0 L73.8 436.7 L74.5 437.3 L75.2 438.0 L75.9 438.6 L76.6 439.2 L77.3 439.8 L78.0 440.4 L78.7 440.9 L79.4 441.5 L80.1 442.0 L80.8 442.5 L81.5 443.1 L82.2 443.6 L82.9 444.1 L83.6 444.7 L84.3 445.2 L85.0 445.8 L85.7 446.3 L86.4 446.9 L87.1 447.5 L87.8 448.1 L88.5 448.8 L89.2 449.5 L89.9 450.2 L90.6 450.9 L91.3 451.6 L92.0 452.3 L92.7 453.0 L93.4 453.7 L94.1 454.3 L94.8 455.0 L95.5 455.6 L96.2 456.2 L96.9 456.8 L97.6 457.4 L98.3 458.0 L99.0 458.6 L99.7 459.1 L100.4 459.6 L101.1 460.2 L101.8 460.7 L102.5 461.1 L103.2 461.6 L103.9 462.1 L104.6 462.5 L105.3 463.0 L106.0 463.4 L106.7 463.8 L107.4 464.1 L108.1 464.4 L108.8 464.7 L109.5 465.0 L110.2 465.3 L110.9 465.6 L111.6 465.8 L112.3 466.0 L113.0 466.2 L113.7 466.4 L114.4 466.5 L115.1 466.6 L115.8 466.7 L116.5 466.9 L117.2 467.0 L117.9 467.1 L118.6 467.1 L119.3 467.2 L120.0 467.2 L120.7 467.2 L121.4 467.2 L122.1 467.1 L122.8 467.1 L123.5 467.0 L124.2 466.9 L124.9 466.8 L125.6 466.7 L126.3 466.6 L127.0 466.5 L127.7 466.4 L128.4 466.2 L129.1 466.0 L129.8 465.8 L130.5 465.5 L131.2 465.3 L131.9 465.0 L132.6 464.8 L133.3 464.5 L134.0 464.3 L134.7 464.0 L135.4 463.7 L136.1 463.4 L136.8 463.1 L137.5 462.8 L138.2 462.5 L138.9 462.2 L139.6 461.9 L140.3 461.6 L141.0 461.3 L141.7 461.0 L142.4 460.7 L143.1 460.4 L143.8 460.1 L144.5 459.8 L145.2 459.5 L145.9 459.2 L146.6 458.9 L147.3 458.6 L148.0 458.3 L148.7 458.0 L149.4 457.7 L150.1 457.4 L150.8 457.1 L151.5 456.8 L152.2 456.6 L152.9 456.3 L153.6 456.1 L154.3 455.8 L155.0 455.6 L155.7 455.3 L156.4 455.0 L157.1 454.6 L157.8 454.2 L158.5 453.7 L159.2 453.2 L159.9 452.7 L160.6 452.1 L161.3 451.6 L162.0 450.9 L162.7 450.3 L163.4 449.6 L164.1 448.9 L164.8 448.1 L165.5 447.3 L166.2 446.4 L166.9 445.4 L167.6 444.3 L168.3 443.0 L169.0 441.6 L169.7 440.0 L170.4 438.1 L171.1 436.2 L171.8 434.1 L172.5 431.6 L173.2 428.9 L173.9 425.7 L174.6 421.7 L175.3 416.8 L176.0 412.5 L176.7 409.0 L177.4 405.9 L178.1 402.5 L178.8 398.6 L179.5 394.4 L180.2 390.2 L180.9 386.4 L181.6 382.7 L182.3 379.1 L183.0 375.7 L183.7 372.5 L184.4 369.4 L185.1 366.5 L185.8 363.6 L186.5 360.8 L187.2 358.0 L187.9 355.2 L188.6 352.4 L189.3 349.5 L190.0 346.6 L190.7 343.7 L191.4 340.5 L192.1 336.8 L192.8 333.0 L193.5 329.4 L194.2 325.9 L194.9 322.5 L195.6 319.2 L196.3 315.9 L197.0 313.0 L197.7 310.1 L198.4 307.3 L199.1 305.2 L199.8 304.0 L200.5 303.0 L201.2 302.2 L201.9 301.6 L202.6 301.2 L203.3 301.1 L204.0 301.5 L204.7 302.2 L205.4 303.2 L206.1 304.2 L206.8 305.2 L207.5 306.4 L208.2 307.7 L208.9 308.7 L209.6 309.0 L210.3 308.5 L211.0 307.5 L211.7 306.4 L212.4 305.4 L213.1 305.0 L213.8 304.6 L214.5 304.3 L215.2 304.1 L215.9 304.0 L216.6 304.3 L217.3 304.8 L218.0 305.5 L218.7 306.3 L219.4 307.3 L220.1 308.6 L220.8 310.3 L221.5 312.4 L222.2 314.5 L222.9 316.7 L223.6 319.0 L224.3 321.4 L225.0 323.6 L225.7 325.7 L226.4 327.8 L227.1 329.8 L227.8 331.8 L228.5 333.8 L229.2 335.7 L229.9 337.5 L230.6 339.1 L231.3 340.7 L232.0 342.4 L232.7 344.6 L233.4 347.4 L234.1 350.5 L234.8 353.9 L235.5 358.4 L236.2 365.7 L236.9 371.3 L237.6 374.7 L238.3 377.3 L239.0 379.6 L239.7 382.0 L240.4 384.8 L241.1 387.7 L241.8 390.7 L242.5 393.5 L243.2 396.1 L243.9 398.6 L244.6 401.0 L244.6 421.5 L243.9 420.2 L243.2 419.0 L242.5 417.8 L241.8 416.7 L241.1 415.6 L240.4 414.6 L239.7 413.7 L239.0 412.7 L238.3 411.7 L237.6 410.8 L236.9 409.9 L236.2 409.0 L235.5 408.1 L234.8 407.2 L234.1 406.2 L233.4 405.3 L232.7 404.3 L232.0 403.2 L231.3 402.2 L230.6 401.1 L229.9 399.9 L229.2 398.7 L228.5 397.4 L227.8 396.0 L227.1 394.5 L226.4 392.8 L225.7 391.0 L225.0 389.1 L224.3 386.9 L223.6 384.4 L222.9 381.7 L222.2 379.2 L221.5 376.7 L220.8 374.1 L220.1 371.1 L219.4 367.6 L218.7 363.3 L218.0 357.0 L217.3 351.4 L216.6 347.4 L215.9 344.3 L215.2 341.9 L214.5 339.7 L213.8 337.5 L213.1 334.9 L212.4 332.3 L211.7 329.9 L211.0 327.5 L210.3 325.8 L209.6 324.7 L208.9 325.4 L208.2 327.0 L207.5 329.3 L206.8 332.0 L206.1 334.6 L205.4 337.3 L204.7 340.0 L204.0 342.5 L203.3 344.8 L202.6 347.1 L201.9 349.6 L201.2 352.6 L200.5 355.9 L199.8 359.5 L199.1 363.1 L198.4 366.8 L197.7 370.8 L197.0 375.0 L196.3 379.5 L195.6 384.3 L194.9 389.6 L194.2 395.4 L193.5 400.7 L192.8 405.2 L192.1 409.4 L191.4 413.4 L190.7 417.3 L190.0 421.1 L189.3 425.0 L188.6 428.5 L187.9 431.5 L187.2 434.0 L186.5 436.3 L185.8 438.4 L185.1 440.4 L184.4 442.5 L183.7 444.6 L183.0 446.6 L182.3 448.5 L181.6 450.2 L180.9 451.6 L180.2 453.1 L179.5 454.3 L178.8 455.5 L178.1 456.3 L177.4 456.9 L176.7 457.4 L176.0 457.8 L175.3 458.2 L174.6 458.4 L173.9 458.6 L173.2 458.8 L172.5 458.9 L171.8 459.0 L171.1 459.0 L170.4 459.1 L169.7 459.2 L169.0 459.3 L168.3 459.4 L167.6 459.5 L166.9 459.7 L166.2 459.8 L165.5 459.9 L164.8 460.1 L164.1 460.2 L163.4 460.3 L162.7 460.5 L162.0 460.6 L161.3 460.7 L160.6 460.9 L159.9 461.0 L159.2 461.1 L158.5 461.2 L157.8 461.3 L157.1 461.5 L156.4 461.6 L155.7 461.7 L155.0 461.8 L154.3 461.9 L153.6 462.0 L152.9 462.2 L152.2 462.3 L151.5 462.5 L150.8 462.7 L150.1 462.9 L149.4 463.2 L148.7 463.5 L148.0 463.9 L147.3 464.3 L146.6 464.7 L145.9 465.0 L145.2 465.4 L144.5 465.7 L143.8 466.1 L143.1 466.4 L142.4 466.8 L141.7 467.1 L141.0 467.5 L140.3 467.8 L139.6 468.2 L138.9 468.5 L138.2 468.9 L137.5 469.2 L136.8 469.6 L136.1 470.0 L135.4 470.4 L134.7 470.7 L134.0 471.1 L133.3 471.4 L132.6 471.7 L131.9 472.0 L131.2 472.2 L130.5 472.5 L129.8 472.7 L129.1 473.0 L128.4 473.2 L127.7 473.4 L127.0 473.6 L126.3 473.7 L125.6 473.9 L124.9 474.1 L124.2 474.2 L123.5 474.3 L122.8 474.5 L122.1 474.6 L121.4 474.6 L120.7 474.7 L120.0 474.7 L119.3 474.7 L118.6 474.7 L117.9 474.7 L117.2 474.7 L116.5 474.7 L115.8 474.7 L115.1 474.7 L114.4 474.7 L113.7 474.7 L113.0 474.7 L112.3 474.7 L111.6 474.6 L110.9 474.6 L110.2 474.6 L109.5 474.5 L108.8 474.5 L108.1 474.4 L107.4 474.4 L106.7 474.3 L106.0 474.2 L105.3 474.1 L104.6 474.0 L103.9 473.9 L103.2 473.8 L102.5 473.6 L101.8 473.4 L101.1 473.2 L100.4 473.0 L99.7 472.6 L99.0 472.3 L98.3 471.9 L97.6 471.6 L96.9 471.3 L96.2 471.0 L95.5 470.7 L94.8 470.4 L94.1 470.2 L93.4 469.9 L92.7 469.6 L92.0 469.3 L91.3 469.0 L90.6 468.7 L89.9 468.4 L89.2 468.1 L88.5 467.8 L87.8 467.5 L87.1 467.1 L86.4 466.8 L85.7 466.5 L85.0 466.1 L84.3 465.7 L83.6 465.4 L82.9 465.0 L82.2 464.7 L81.5 464.3 L80.8 464.0 L80.1 463.6 L79.4 463.3 L78.7 462.9 L78.0 462.6 L77.3 462.3 L76.6 462.0 L75.9 461.8 L75.2 461.5 L74.5 461.3 L73.8 461.0 L73.1 460.8 L72.4 460.6 L71.7 460.4 L71.0 460.2 L70.3 460.1 L69.6 459.9 L68.9 459.7 L68.2 459.6 L67.5 459.4 L66.8 459.3 L66.1 459.1 L65.4 459.0 L64.7 458.8 L64.0 458.6 L63.3 458.4 L62.6 458.2 L61.9 457.9 L61.2 457.5 L60.5 457.2 L59.8 456.8 L59.1 456.4 L58.4 455.9 L57.7 455.4 L57.0 454.9 L56.3 454.3 L55.6 453.6 L54.9 452.8 L54.2 452.0 L53.5 451.2 L52.8 450.3 L52.1 449.3 L51.4 448.1 L50.7 446.9 L50.0 445.6 L49.3 444.3 L48.6 442.8 L47.9 441.2 L47.2 439.5 L46.5 437.8 L45.8 436.1 L45.1 434.6 L44.4 433.0 L43.7 431.5 L43.0 430.1 L42.3 428.7 L41.6 427.5 L40.9 426.3 L40.2 425.2 L39.5 424.0 L38.8 422.6 L38.1 421.2Z" fill="#bdbdbd"/>
<path d="M176.42 281.4V484.1" stroke="#555" stroke-width="1.3" fill="none"/>
<path d="M148.06 281.4V484.1" stroke="#787878" stroke-width="1.45" stroke-dasharray="3.7 2.9" fill="none"/>
<path d="M38.1 406.1 L38.8 406.7 L39.5 407.1 L40.2 407.4 L40.9 407.6 L41.6 407.6 L42.3 407.6 L43.0 407.6 L43.7 407.6 L44.4 407.7 L45.1 407.8 L45.8 407.9 L46.5 408.2 L47.2 408.5 L47.9 408.9 L48.6 409.4 L49.3 409.9 L50.0 410.6 L50.7 411.3 L51.4 412.1 L52.1 412.9 L52.8 413.8 L53.5 414.8 L54.2 415.8 L54.9 416.8 L55.6 417.9 L56.3 418.9 L57.0 420.0 L57.7 421.1 L58.4 422.1 L59.1 423.2 L59.8 424.2 L60.5 425.2 L61.2 426.2 L61.9 427.1 L62.6 428.1 L63.3 429.0 L64.0 429.8 L64.7 430.7 L65.4 431.6 L66.1 432.4 L66.8 433.2 L67.5 434.0 L68.2 434.7 L68.9 435.5 L69.6 436.2 L70.3 436.9 L71.0 437.6 L71.7 438.2 L72.4 438.9 L73.1 439.5 L73.8 440.1 L74.5 440.7 L75.2 441.2 L75.9 441.8 L76.6 442.3 L77.3 442.8 L78.0 443.3 L78.7 443.7 L79.4 444.2 L80.1 444.6 L80.8 445.0 L81.5 445.4 L82.2 445.8 L82.9 446.2 L83.6 446.5 L84.3 446.8 L85.0 447.2 L85.7 447.5 L86.4 447.7 L87.1 448.0 L87.8 448.3 L88.5 448.5 L89.2 448.8 L89.9 449.0 L90.6 449.2 L91.3 449.4 L92.0 449.6 L92.7 449.8 L93.4 449.9 L94.1 450.1 L94.8 450.2 L95.5 450.4 L96.2 450.5 L96.9 450.6 L97.6 450.7 L98.3 450.8 L99.0 450.9 L99.7 451.0 L100.4 451.1 L101.1 451.1 L101.8 451.2 L102.5 451.2 L103.2 451.2 L103.9 451.3 L104.6 451.2 L105.3 451.2 L106.0 451.2 L106.7 451.2 L107.4 451.1 L108.1 451.0 L108.8 450.9 L109.5 450.8 L110.2 450.7 L110.9 450.6 L111.6 450.4 L112.3 450.2 L113.0 450.0 L113.7 449.8 L114.4 449.6 L115.1 449.4 L115.8 449.1 L116.5 448.8 L117.2 448.5 L117.9 448.2 L118.6 447.9 L119.3 447.6 L120.0 447.2 L120.7 446.9 L121.4 446.5 L122.1 446.1 L122.8 445.8 L123.5 445.4 L124.2 445.0 L124.9 444.6 L125.6 444.2 L126.3 443.9 L127.0 443.5 L127.7 443.1 L128.4 442.7 L129.1 442.3 L129.8 442.0 L130.5 441.6 L131.2 441.3 L131.9 440.9 L132.6 440.6 L133.3 440.2 L134.0 439.9 L134.7 439.6 L135.4 439.3 L136.1 439.0 L136.8 438.7 L137.5 438.5 L138.2 438.2 L138.9 437.9 L139.6 437.6 L140.3 437.4 L141.0 437.1 L141.7 436.8 L142.4 436.5 L143.1 436.2 L143.8 436.0 L144.5 435.7 L145.2 435.4 L145.9 435.1 L146.6 434.7 L147.3 434.4 L148.0 434.1 L148.7 433.7 L149.4 433.3 L150.1 433.0 L150.8 432.6 L151.5 432.1 L152.2 431.7 L152.9 431.2 L153.6 430.8 L154.3 430.3 L155.0 429.8 L155.7 429.2 L156.4 428.6 L157.1 428.1 L157.8 427.4 L158.5 426.8 L159.2 426.1 L159.9 425.5 L160.6 424.8 L161.3 424.0 L162.0 423.3 L162.7 422.6 L163.4 421.8 L164.1 421.1 L164.8 420.3 L165.5 419.5 L166.2 418.7 L166.9 418.0 L167.6 417.2 L168.3 416.4 L169.0 415.6 L169.7 414.8 L170.4 414.0 L171.1 413.3 L171.8 412.5 L172.5 411.8 L173.2 411.0 L173.9 410.3 L174.6 409.6 L175.3 408.9 L176.0 408.1 L176.7 407.4 L177.4 406.5 L178.1 405.7 L178.8 404.7 L179.5 403.7 L180.2 402.6 L180.9 401.4 L181.6 400.1 L182.3 398.8 L183.0 397.5 L183.7 396.0 L184.4 394.6 L185.1 393.1 L185.8 391.7 L186.5 390.2 L187.2 388.7 L187.9 387.1 L188.6 385.6 L189.3 384.1 L190.0 382.5 L190.7 381.0 L191.4 379.4 L192.1 377.8 L192.8 376.3 L193.5 374.7 L194.2 373.1 L194.9 371.5 L195.6 369.9 L196.3 368.3 L197.0 366.8 L197.7 365.2 L198.4 363.6 L199.1 362.0 L199.8 360.5 L200.5 358.9 L201.2 357.4 L201.9 355.8 L202.6 354.3 L203.3 352.9 L204.0 351.4 L204.7 350.1 L205.4 348.8 L206.1 347.6 L206.8 346.4 L207.5 345.4 L208.2 344.4 L208.9 343.6 L209.6 342.8 L210.3 342.2 L211.0 341.7 L211.7 341.4 L212.4 341.2 L213.1 341.1 L213.8 341.1 L214.5 341.3 L215.2 341.5 L215.9 341.8 L216.6 342.2 L217.3 342.7 L218.0 343.2 L218.7 343.9 L219.4 344.6 L220.1 345.4 L220.8 346.3 L221.5 347.3 L222.2 348.4 L222.9 349.6 L223.6 350.9 L224.3 352.3 L225.0 353.8 L225.7 355.3 L226.4 356.9 L227.1 358.5 L227.8 360.2 L228.5 361.9 L229.2 363.7 L229.9 365.5 L230.6 367.3 L231.3 369.1 L232.0 371.0 L232.7 372.8 L233.4 374.6 L234.1 376.5 L234.8 378.3 L235.5 380.1 L236.2 381.8 L236.9 383.6 L237.6 385.3 L238.3 387.1 L239.0 388.8 L239.7 390.6 L240.4 392.3 L241.1 394.0 L241.8 395.8 L242.5 397.6 L243.2 399.3 L243.9 401.1 L244.6 402.9 L245.3 404.7 L246.0 406.6 L246.7 408.5" stroke="#000" stroke-width="1.6" stroke-dasharray="3.7 2.6" fill="none" stroke-linejoin="round"/>
<path d="M38.1 406.1 L38.8 407.0 L39.5 408.0 L40.2 409.0 L40.9 410.0 L41.6 411.1 L42.3 412.2 L43.0 413.3 L43.7 414.4 L44.4 415.5 L45.1 416.7 L45.8 417.9 L46.5 419.1 L47.2 420.3 L47.9 421.5 L48.6 422.7 L49.3 423.9 L50.0 425.1 L50.7 426.3 L51.4 427.5 L52.1 428.7 L52.8 429.9 L53.5 431.1 L54.2 432.2 L54.9 433.3 L55.6 434.4 L56.3 435.5 L57.0 436.5 L57.7 437.5 L58.4 438.5 L59.1 439.4 L59.8 440.3 L60.5 441.1 L61.2 441.9 L61.9 442.7 L62.6 443.4 L63.3 444.1 L64.0 444.7 L64.7 445.3 L65.4 445.8 L66.1 446.3 L66.8 446.7 L67.5 447.1 L68.2 447.5 L68.9 447.8 L69.6 448.2 L70.3 448.5 L71.0 448.8 L71.7 449.2 L72.4 449.5 L73.1 449.9 L73.8 450.2 L74.5 450.6 L75.2 451.0 L75.9 451.4 L76.6 451.8 L77.3 452.2 L78.0 452.6 L78.7 453.0 L79.4 453.4 L80.1 453.9 L80.8 454.3 L81.5 454.7 L82.2 455.2 L82.9 455.6 L83.6 456.1 L84.3 456.5 L85.0 457.0 L85.7 457.4 L86.4 457.9 L87.1 458.3 L87.8 458.7 L88.5 459.2 L89.2 459.6 L89.9 460.1 L90.6 460.5 L91.3 460.9 L92.0 461.4 L92.7 461.8 L93.4 462.2 L94.1 462.6 L94.8 463.0 L95.5 463.4 L96.2 463.8 L96.9 464.2 L97.6 464.6 L98.3 465.0 L99.0 465.3 L99.7 465.7 L100.4 466.0 L101.1 466.4 L101.8 466.7 L102.5 467.0 L103.2 467.3 L103.9 467.6 L104.6 467.8 L105.3 468.1 L106.0 468.3 L106.7 468.6 L107.4 468.8 L108.1 469.0 L108.8 469.2 L109.5 469.4 L110.2 469.6 L110.9 469.8 L111.6 469.9 L112.3 470.1 L113.0 470.2 L113.7 470.3 L114.4 470.4 L115.1 470.5 L115.8 470.6 L116.5 470.7 L117.2 470.7 L117.9 470.8 L118.6 470.8 L119.3 470.9 L120.0 470.9 L120.7 470.9 L121.4 470.9 L122.1 470.9 L122.8 470.8 L123.5 470.8 L124.2 470.7 L124.9 470.7 L125.6 470.6 L126.3 470.5 L127.0 470.4 L127.7 470.3 L128.4 470.2 L129.1 470.0 L129.8 469.9 L130.5 469.7 L131.2 469.6 L131.9 469.4 L132.6 469.2 L133.3 469.0 L134.0 468.8 L134.7 468.5 L135.4 468.3 L136.1 468.0 L136.8 467.8 L137.5 467.5 L138.2 467.2 L138.9 466.9 L139.6 466.6 L140.3 466.3 L141.0 466.0 L141.7 465.6 L142.4 465.3 L143.1 464.9 L143.8 464.6 L144.5 464.2 L145.2 463.8 L145.9 463.5 L146.6 463.1 L147.3 462.7 L148.0 462.3 L148.7 462.0 L149.4 461.6 L150.1 461.3 L150.8 460.9 L151.5 460.6 L152.2 460.2 L152.9 459.9 L153.6 459.6 L154.3 459.3 L155.0 459.0 L155.7 458.7 L156.4 458.5 L157.1 458.2 L157.8 458.0 L158.5 457.8 L159.2 457.5 L159.9 457.3 L160.6 457.1 L161.3 456.8 L162.0 456.5 L162.7 456.2 L163.4 455.9 L164.1 455.5 L164.8 455.1 L165.5 454.6 L166.2 454.1 L166.9 453.5 L167.6 452.9 L168.3 452.2 L169.0 451.4 L169.7 450.6 L170.4 449.7 L171.1 448.6 L171.8 447.5 L172.5 446.3 L173.2 445.0 L173.9 443.6 L174.6 442.1 L175.3 440.4 L176.0 438.7 L176.7 436.9 L177.4 435.0 L178.1 433.0 L178.8 430.9 L179.5 428.8 L180.2 426.5 L180.9 424.2 L181.6 421.8 L182.3 419.3 L183.0 416.8 L183.7 414.2 L184.4 411.5 L185.1 408.7 L185.8 405.9 L186.5 403.0 L187.2 400.1 L187.9 397.1 L188.6 394.0 L189.3 390.9 L190.0 387.8 L190.7 384.6 L191.4 381.3 L192.1 378.1 L192.8 374.7 L193.5 371.4 L194.2 368.0 L194.9 364.6 L195.6 361.3 L196.3 357.9 L197.0 354.6 L197.7 351.3 L198.4 348.2 L199.1 345.0 L199.8 342.0 L200.5 339.1 L201.2 336.3 L201.9 333.6 L202.6 331.1 L203.3 328.7 L204.0 326.5 L204.7 324.5 L205.4 322.7 L206.1 321.1 L206.8 319.7 L207.5 318.6 L208.2 317.7 L208.9 317.1 L209.6 316.7 L210.3 316.6 L211.0 316.7 L211.7 317.1 L212.4 317.7 L213.1 318.4 L213.8 319.4 L214.5 320.5 L215.2 321.8 L215.9 323.3 L216.6 324.9 L217.3 326.6 L218.0 328.5 L218.7 330.4 L219.4 332.5 L220.1 334.6 L220.8 336.8 L221.5 339.1 L222.2 341.4 L222.9 343.7 L223.6 346.1 L224.3 348.5 L225.0 350.9 L225.7 353.2 L226.4 355.6 L227.1 357.9 L227.8 360.2 L228.5 362.5 L229.2 364.8 L229.9 367.0 L230.6 369.2 L231.3 371.3 L232.0 373.4 L232.7 375.5 L233.4 377.4 L234.1 379.4 L234.8 381.3 L235.5 383.1 L236.2 384.8 L236.9 386.6 L237.6 388.2 L238.3 389.9 L239.0 391.5 L239.7 393.1 L240.4 394.7 L241.1 396.3 L241.8 397.9 L242.5 399.5 L243.2 401.1 L243.9 402.7 L244.6 404.4 L245.3 406.1 L246.0 407.8 L246.7 409.6" stroke="#000" stroke-width="1.6" fill="none" stroke-linejoin="round"/>
<path d="M36.10 281.40V484.08H246.69M36.10 484.08v-2.1M77.80 484.08v-2.1M119.50 484.08v-2.1M161.20 484.08v-2.1M202.90 484.08v-2.1M244.60 484.08v-2.1M36.10 484.08h2.1M36.10 450.30h2.1M36.10 416.52h2.1M36.10 382.74h2.1M36.10 348.96h2.1M36.10 315.18h2.1M36.10 281.40h2.1" stroke="#9c9c9c" stroke-width="1.15" fill="none"/>
<text x="36.1" y="499.1" text-anchor="middle" font-family="Liberation Sans, sans-serif" font-size="10.4" fill="#2e2e2e">0</text>
<text x="77.8" y="499.1" text-anchor="middle" font-family="Liberation Sans, sans-serif" font-size="10.4" fill="#2e2e2e">20</text>
<text x="119.5" y="499.1" text-anchor="middle" font-family="Liberation Sans, sans-serif" font-size="10.4" fill="#2e2e2e">40</text>
<text x="161.2" y="499.1" text-anchor="middle" font-family="Liberation Sans, sans-serif" font-size="10.4" fill="#2e2e2e">60</text>
<text x="202.9" y="499.1" text-anchor="middle" font-family="Liberation Sans, sans-serif" font-size="10.4" fill="#2e2e2e">80</text>
<text x="244.6" y="499.1" text-anchor="middle" font-family="Liberation Sans, sans-serif" font-size="10.4" fill="#2e2e2e">100</text>
<text x="32.1" y="488.6" text-anchor="end" font-family="Liberation Sans, sans-serif" font-size="10.4" fill="#2e2e2e">0</text>
<text x="32.1" y="454.8" text-anchor="end" font-family="Liberation Sans, sans-serif" font-size="10.4" fill="#2e2e2e">10</text>
<text x="32.1" y="421.0" text-anchor="end" font-family="Liberation Sans, sans-serif" font-size="10.4" fill="#2e2e2e">20</text>
<text x="32.1" y="387.2" text-anchor="end" font-family="Liberation Sans, sans-serif" font-size="10.4" fill="#2e2e2e">30</text>
<text x="32.1" y="353.5" text-anchor="end" font-family="Liberation Sans, sans-serif" font-size="10.4" fill="#2e2e2e">40</text>
<text x="32.1" y="319.7" text-anchor="end" font-family="Liberation Sans, sans-serif" font-size="10.4" fill="#2e2e2e">50</text>
<text x="32.1" y="285.9" text-anchor="end" font-family="Liberation Sans, sans-serif" font-size="10.4" fill="#2e2e2e">60</text>
<text x="141.4" y="514.6" text-anchor="middle" font-family="Liberation Sans, sans-serif" font-size="12.1" fill="#333">Gait Cycle [%]</text>
<text transform="translate(15.8 382.7) rotate(-90)" text-anchor="middle" font-family="Liberation Sans, sans-serif" font-size="12.1" fill="#333">Joint Angle [deg]</text>
<text x="141.4" y="276.8" text-anchor="middle" font-family="Liberation Sans, sans-serif" font-weight="bold" font-size="10.8" fill="#000">Left Knee Angle</text>
</g>
<g id="BR">
<path d="M315.4 428.4 L316.1 429.3 L316.8 430.0 L317.5 430.4 L318.2 430.7 L318.9 430.7 L319.6 430.3 L320.3 429.6 L321.0 428.7 L321.7 427.9 L322.4 427.1 L323.1 426.2 L323.8 425.2 L324.5 424.3 L325.2 423.8 L325.9 423.7 L326.6 424.0 L327.3 424.4 L328.0 425.0 L328.7 426.0 L329.4 427.6 L330.1 429.5 L330.8 431.2 L331.5 433.0 L332.2 434.9 L332.9 436.9 L333.6 438.7 L334.3 440.6 L335.0 442.6 L335.7 444.6 L336.4 446.3 L337.1 447.5 L337.8 448.6 L338.5 449.5 L339.2 450.3 L339.9 450.8 L340.6 451.2 L341.3 451.6 L342.0 451.8 L342.7 452.1 L343.4 452.2 L344.1 452.2 L344.8 452.2 L345.5 452.2 L346.2 452.2 L346.9 452.2 L347.6 452.2 L348.3 452.2 L349.0 452.2 L349.7 452.2 L350.4 452.1 L351.1 452.1 L351.8 452.0 L352.5 451.9 L353.2 451.9 L353.9 451.8 L354.6 451.7 L355.3 451.6 L356.0 451.5 L356.7 451.3 L357.4 451.2 L358.1 451.0 L358.8 450.9 L359.5 450.7 L360.2 450.6 L360.9 450.4 L361.6 450.3 L362.3 450.1 L363.0 450.0 L363.7 449.8 L364.4 449.6 L365.1 449.5 L365.8 449.3 L366.5 449.2 L367.2 449.1 L367.9 449.0 L368.6 448.9 L369.3 448.8 L370.0 448.7 L370.7 448.6 L371.4 448.6 L372.1 448.5 L372.8 448.4 L373.5 448.3 L374.2 448.2 L374.9 448.0 L375.6 447.8 L376.3 447.6 L377.0 447.4 L377.7 447.1 L378.4 446.9 L379.1 446.6 L379.8 446.4 L380.5 446.1 L381.2 445.9 L381.9 445.7 L382.6 445.5 L383.3 445.4 L384.0 445.2 L384.7 445.0 L385.4 444.7 L386.1 444.5 L386.8 444.3 L387.5 444.0 L388.2 443.8 L388.9 443.5 L389.6 443.2 L390.3 442.9 L391.0 442.5 L391.7 442.2 L392.4 441.8 L393.1 441.4 L393.8 441.0 L394.5 440.5 L395.2 440.0 L395.9 439.4 L396.6 438.8 L397.3 438.1 L398.0 437.4 L398.7 436.7 L399.4 436.0 L400.1 435.1 L400.8 434.2 L401.5 433.2 L402.2 432.1 L402.9 431.1 L403.6 430.0 L404.3 428.8 L405.0 427.6 L405.7 426.4 L406.4 425.3 L407.1 424.2 L407.8 423.2 L408.5 422.2 L409.2 421.1 L409.9 420.0 L410.6 418.7 L411.3 417.2 L412.0 415.7 L412.7 414.1 L413.4 412.6 L414.1 411.1 L414.8 409.7 L415.5 408.5 L416.2 407.4 L416.9 406.4 L417.6 405.4 L418.3 404.4 L419.0 403.5 L419.7 402.6 L420.4 401.7 L421.1 400.8 L421.8 399.9 L422.5 399.0 L423.2 398.1 L423.9 397.2 L424.6 396.4 L425.3 395.5 L426.0 394.7 L426.7 393.9 L427.4 393.1 L428.1 392.4 L428.8 391.6 L429.5 390.8 L430.2 390.1 L430.9 389.3 L431.6 388.6 L432.3 387.9 L433.0 387.3 L433.7 386.7 L434.4 386.2 L435.1 385.8 L435.8 385.4 L436.5 385.0 L437.2 384.7 L437.9 384.4 L438.6 384.0 L439.3 383.5 L440.0 383.0 L440.7 382.3 L441.4 381.4 L442.1 380.3 L442.8 379.0 L443.5 377.6 L444.2 376.2 L444.9 374.6 L445.6 372.8 L446.3 370.8 L447.0 368.8 L447.7 366.9 L448.4 364.9 L449.1 362.9 L449.8 360.8 L450.5 358.9 L451.2 357.0 L451.9 355.1 L452.6 353.3 L453.3 352.0 L454.0 350.8 L454.7 349.8 L455.4 348.9 L456.1 348.0 L456.8 347.1 L457.5 346.3 L458.2 345.3 L458.9 344.3 L459.6 343.2 L460.3 342.2 L461.0 341.2 L461.7 340.1 L462.4 338.9 L463.1 337.4 L463.8 335.7 L464.5 333.1 L465.2 329.3 L465.9 325.3 L466.6 321.9 L467.3 319.1 L468.0 316.4 L468.7 313.8 L469.4 311.2 L470.1 308.3 L470.8 305.7 L471.5 303.9 L472.2 302.7 L472.9 301.6 L473.6 300.8 L474.3 300.2 L475.0 300.0 L475.7 299.8 L476.4 299.7 L477.1 299.5 L477.8 299.3 L478.5 299.1 L479.2 298.9 L479.9 298.7 L480.6 298.4 L481.3 298.2 L482.0 298.0 L482.7 297.8 L483.4 297.6 L484.1 297.4 L484.8 297.3 L485.5 297.3 L486.2 297.4 L486.9 297.6 L487.6 297.9 L488.3 298.5 L489.0 299.3 L489.7 300.1 L490.4 301.1 L491.1 301.6 L491.8 301.9 L492.5 302.2 L493.2 302.3 L493.9 302.2 L494.6 301.1 L495.3 299.5 L496.0 297.5 L496.7 294.7 L497.4 292.3 L498.1 290.0 L498.8 287.9 L499.5 286.5 L500.2 286.3 L500.9 287.0 L501.6 288.4 L502.3 290.2 L503.0 293.9 L503.7 298.2 L504.4 302.7 L505.1 307.3 L505.8 312.2 L506.5 317.5 L507.2 324.1 L507.9 333.7 L508.6 342.4 L509.3 350.0 L510.0 356.0 L510.7 360.4 L511.4 364.2 L512.1 367.7 L512.8 370.9 L513.5 374.0 L514.2 377.0 L514.9 379.9 L515.6 382.8 L516.3 385.9 L517.0 389.7 L517.7 394.5 L518.4 398.7 L519.1 402.5 L519.8 405.9 L520.5 408.9 L521.2 412.6 L521.9 417.7 L521.9 431.6 L521.2 430.7 L520.5 429.9 L519.8 429.3 L519.1 428.9 L518.4 428.8 L517.7 428.8 L517.0 428.8 L516.3 428.9 L515.6 429.0 L514.9 429.1 L514.2 429.6 L513.5 430.4 L512.8 431.3 L512.1 432.2 L511.4 433.0 L510.7 434.0 L510.0 435.1 L509.3 436.1 L508.6 436.6 L507.9 436.5 L507.2 436.3 L506.5 436.0 L505.8 435.2 L505.1 433.6 L504.4 431.6 L503.7 429.2 L503.0 425.6 L502.3 421.4 L501.6 417.2 L500.9 412.8 L500.2 407.6 L499.5 401.1 L498.8 391.5 L498.1 380.8 L497.4 375.0 L496.7 369.9 L496.0 365.2 L495.3 360.8 L494.6 356.4 L493.9 352.3 L493.2 348.6 L492.5 345.2 L491.8 342.5 L491.1 340.6 L490.4 339.1 L489.7 337.7 L489.0 336.5 L488.3 335.4 L487.6 334.5 L486.9 333.6 L486.2 332.7 L485.5 331.8 L484.8 330.8 L484.1 329.7 L483.4 328.7 L482.7 328.1 L482.0 328.0 L481.3 328.8 L480.6 330.5 L479.9 332.6 L479.2 334.8 L478.5 336.9 L477.8 339.2 L477.1 341.8 L476.4 344.8 L475.7 348.5 L475.0 353.1 L474.3 358.5 L473.6 363.6 L472.9 368.2 L472.2 372.4 L471.5 376.1 L470.8 379.2 L470.1 381.8 L469.4 384.3 L468.7 386.8 L468.0 389.3 L467.3 391.5 L466.6 393.2 L465.9 394.5 L465.2 395.6 L464.5 396.5 L463.8 397.5 L463.1 398.7 L462.4 399.9 L461.7 401.1 L461.0 402.0 L460.3 402.6 L459.6 403.1 L458.9 403.6 L458.2 404.0 L457.5 404.5 L456.8 405.2 L456.1 406.2 L455.4 407.5 L454.7 409.0 L454.0 410.5 L453.3 411.9 L452.6 413.2 L451.9 414.1 L451.2 414.9 L450.5 415.7 L449.8 416.4 L449.1 417.1 L448.4 417.7 L447.7 418.3 L447.0 418.9 L446.3 419.3 L445.6 419.7 L444.9 420.0 L444.2 420.3 L443.5 420.5 L442.8 420.7 L442.1 420.9 L441.4 421.1 L440.7 421.2 L440.0 421.3 L439.3 421.5 L438.6 421.6 L437.9 421.8 L437.2 422.0 L436.5 422.3 L435.8 422.6 L435.1 423.0 L434.4 423.4 L433.7 424.0 L433.0 424.6 L432.3 425.2 L431.6 426.0 L430.9 426.8 L430.2 427.7 L429.5 428.7 L428.8 430.1 L428.1 431.6 L427.4 433.3 L426.7 435.2 L426.0 437.4 L425.3 439.5 L424.6 441.4 L423.9 443.1 L423.2 444.7 L422.5 446.2 L421.8 447.6 L421.1 448.9 L420.4 450.2 L419.7 451.4 L419.0 452.6 L418.3 453.6 L417.6 454.5 L416.9 455.3 L416.2 456.1 L415.5 456.8 L414.8 457.5 L414.1 458.2 L413.4 458.7 L412.7 459.2 L412.0 459.6 L411.3 460.0 L410.6 460.4 L409.9 460.7 L409.2 461.0 L408.5 461.3 L407.8 461.6 L407.1 461.8 L406.4 461.9 L405.7 462.0 L405.0 462.2 L404.3 462.2 L403.6 462.3 L402.9 462.4 L402.2 462.5 L401.5 462.5 L400.8 462.6 L400.1 462.7 L399.4 462.8 L398.7 462.9 L398.0 463.0 L397.3 463.0 L396.6 463.1 L395.9 463.2 L395.2 463.3 L394.5 463.4 L393.8 463.5 L393.1 463.7 L392.4 463.8 L391.7 464.0 L391.0 464.2 L390.3 464.5 L389.6 464.7 L388.9 464.9 L388.2 465.2 L387.5 465.4 L386.8 465.7 L386.1 466.0 L385.4 466.3 L384.7 466.6 L384.0 466.9 L383.3 467.2 L382.6 467.5 L381.9 467.8 L381.2 468.0 L380.5 468.3 L379.8 468.6 L379.1 468.9 L378.4 469.2 L377.7 469.4 L377.0 469.6 L376.3 469.7 L375.6 469.9 L374.9 470.0 L374.2 470.1 L373.5 470.2 L372.8 470.2 L372.1 470.2 L371.4 470.1 L370.7 470.0 L370.0 469.8 L369.3 469.6 L368.6 469.5 L367.9 469.3 L367.2 469.0 L366.5 468.8 L365.8 468.5 L365.1 468.1 L364.4 467.7 L363.7 467.4 L363.0 467.0 L362.3 466.6 L361.6 466.2 L360.9 465.8 L360.2 465.5 L359.5 465.1 L358.8 464.8 L358.1 464.4 L357.4 464.0 L356.7 463.7 L356.0 463.3 L355.3 463.0 L354.6 462.6 L353.9 462.3 L353.2 462.0 L352.5 461.7 L351.8 461.3 L351.1 461.0 L350.4 460.7 L349.7 460.4 L349.0 460.2 L348.3 460.0 L347.6 459.8 L346.9 459.7 L346.2 459.6 L345.5 459.5 L344.8 459.5 L344.1 459.4 L343.4 459.3 L342.7 459.1 L342.0 458.9 L341.3 458.5 L340.6 458.0 L339.9 457.3 L339.2 456.6 L338.5 455.8 L337.8 454.7 L337.1 453.4 L336.4 452.0 L335.7 450.5 L335.0 448.9 L334.3 447.1 L333.6 445.2 L332.9 443.6 L332.2 442.4 L331.5 441.3 L330.8 440.4 L330.1 439.9 L329.4 439.7 L328.7 439.7 L328.0 439.6 L327.3 439.6 L326.6 439.6 L325.9 439.5 L325.2 439.3 L324.5 439.1 L323.8 438.9 L323.1 438.6 L322.4 438.2 L321.7 437.9 L321.0 437.5 L320.3 437.0 L319.6 436.5 L318.9 435.9 L318.2 435.4 L317.5 434.8 L316.8 434.2 L316.1 433.6 L315.4 433.0Z" fill="#dedede"/>
<path d="M315.4 382.1 L316.1 382.4 L316.8 382.8 L317.5 383.2 L318.2 383.6 L318.9 384.1 L319.6 384.6 L320.3 385.1 L321.0 385.6 L321.7 386.1 L322.4 386.7 L323.1 387.4 L323.8 388.1 L324.5 388.9 L325.2 389.9 L325.9 390.8 L326.6 391.9 L327.3 392.9 L328.0 394.1 L328.7 395.2 L329.4 396.5 L330.1 397.7 L330.8 398.9 L331.5 400.1 L332.2 401.2 L332.9 402.3 L333.6 403.3 L334.3 404.4 L335.0 405.6 L335.7 406.9 L336.4 408.2 L337.1 409.6 L337.8 411.0 L338.5 412.2 L339.2 413.3 L339.9 414.3 L340.6 415.2 L341.3 416.1 L342.0 417.0 L342.7 417.7 L343.4 418.4 L344.1 419.1 L344.8 419.7 L345.5 420.3 L346.2 420.7 L346.9 421.1 L347.6 421.4 L348.3 421.7 L349.0 422.0 L349.7 422.3 L350.4 422.5 L351.1 422.8 L351.8 423.1 L352.5 423.3 L353.2 423.6 L353.9 423.9 L354.6 424.2 L355.3 424.5 L356.0 424.8 L356.7 425.1 L357.4 425.5 L358.1 425.9 L358.8 426.3 L359.5 426.7 L360.2 427.1 L360.9 427.6 L361.6 428.0 L362.3 428.5 L363.0 429.0 L363.7 429.5 L364.4 430.1 L365.1 430.6 L365.8 431.2 L366.5 431.7 L367.2 432.2 L367.9 432.8 L368.6 433.3 L369.3 433.9 L370.0 434.4 L370.7 434.9 L371.4 435.4 L372.1 435.9 L372.8 436.4 L373.5 436.9 L374.2 437.4 L374.9 437.9 L375.6 438.3 L376.3 438.7 L377.0 439.1 L377.7 439.5 L378.4 439.9 L379.1 440.2 L379.8 440.4 L380.5 440.6 L381.2 440.8 L381.9 440.9 L382.6 441.1 L383.3 441.2 L384.0 441.2 L384.7 441.3 L385.4 441.3 L386.1 441.2 L386.8 441.1 L387.5 440.9 L388.2 440.7 L388.9 440.4 L389.6 440.2 L390.3 439.9 L391.0 439.7 L391.7 439.3 L392.4 439.0 L393.1 438.6 L393.8 438.2 L394.5 437.8 L395.2 437.4 L395.9 437.0 L396.6 436.5 L397.3 436.1 L398.0 435.6 L398.7 435.1 L399.4 434.6 L400.1 434.2 L400.8 433.7 L401.5 433.3 L402.2 432.9 L402.9 432.5 L403.6 432.0 L404.3 431.6 L405.0 431.2 L405.7 430.8 L406.4 430.5 L407.1 430.1 L407.8 429.7 L408.5 429.3 L409.2 428.9 L409.9 428.6 L410.6 428.2 L411.3 427.9 L412.0 427.6 L412.7 427.2 L413.4 426.9 L414.1 426.7 L414.8 426.4 L415.5 426.1 L416.2 425.9 L416.9 425.6 L417.6 425.4 L418.3 425.2 L419.0 424.9 L419.7 424.7 L420.4 424.5 L421.1 424.3 L421.8 424.1 L422.5 423.9 L423.2 423.7 L423.9 423.5 L424.6 423.3 L425.3 423.1 L426.0 422.9 L426.7 422.7 L427.4 422.5 L428.1 422.3 L428.8 422.1 L429.5 421.9 L430.2 421.7 L430.9 421.5 L431.6 421.3 L432.3 421.1 L433.0 420.9 L433.7 420.6 L434.4 420.3 L435.1 420.1 L435.8 419.8 L436.5 419.5 L437.2 419.2 L437.9 418.8 L438.6 418.5 L439.3 418.1 L440.0 417.7 L440.7 417.3 L441.4 416.8 L442.1 416.3 L442.8 415.7 L443.5 415.0 L444.2 414.0 L444.9 413.0 L445.6 412.0 L446.3 411.2 L447.0 410.5 L447.7 409.8 L448.4 409.1 L449.1 408.0 L449.8 406.2 L450.5 404.1 L451.2 402.0 L451.9 399.8 L452.6 397.6 L453.3 395.7 L454.0 394.1 L454.7 392.6 L455.4 391.3 L456.1 390.2 L456.8 388.8 L457.5 386.6 L458.2 383.9 L458.9 381.3 L459.6 378.9 L460.3 376.7 L461.0 374.5 L461.7 372.3 L462.4 370.1 L463.1 367.9 L463.8 365.7 L464.5 363.4 L465.2 361.1 L465.9 358.6 L466.6 355.9 L467.3 351.8 L468.0 345.8 L468.7 340.0 L469.4 335.8 L470.1 332.5 L470.8 329.5 L471.5 326.6 L472.2 323.7 L472.9 320.5 L473.6 317.3 L474.3 314.2 L475.0 311.3 L475.7 308.7 L476.4 306.2 L477.1 303.9 L477.8 301.8 L478.5 299.8 L479.2 298.2 L479.9 296.7 L480.6 295.2 L481.3 293.8 L482.0 292.4 L482.7 291.1 L483.4 289.9 L484.1 288.8 L484.8 287.9 L485.5 287.3 L486.2 286.7 L486.9 286.2 L487.6 285.9 L488.3 285.8 L489.0 285.8 L489.7 285.8 L490.4 285.8 L491.1 285.8 L491.8 286.1 L492.5 286.5 L493.2 287.0 L493.9 287.7 L494.6 288.7 L495.3 289.8 L496.0 290.9 L496.7 292.0 L497.4 293.4 L498.1 295.9 L498.8 298.6 L499.5 301.1 L500.2 303.4 L500.9 305.8 L501.6 308.2 L502.3 310.8 L503.0 313.5 L503.7 316.1 L504.4 318.5 L505.1 321.0 L505.8 323.9 L506.5 327.1 L507.2 330.4 L507.9 333.7 L508.6 336.9 L509.3 340.0 L510.0 342.9 L510.7 345.7 L511.4 348.5 L512.1 351.3 L512.8 354.2 L513.5 357.1 L514.2 359.8 L514.9 362.5 L515.6 365.1 L516.3 367.5 L517.0 369.6 L517.7 371.4 L518.4 373.1 L519.1 374.6 L519.8 376.2 L520.5 377.7 L521.2 379.1 L522.0 380.6 L521.0 386.0 L519.8 384.4 L519.1 383.4 L518.4 382.2 L517.7 380.9 L517.0 379.5 L516.3 378.0 L515.6 376.4 L514.9 374.5 L514.2 372.5 L513.5 370.3 L512.8 368.0 L512.1 365.7 L511.4 363.2 L510.7 360.6 L510.0 357.9 L509.3 355.0 L508.6 352.1 L507.9 349.3 L507.2 346.5 L506.5 343.7 L505.8 340.9 L505.1 337.6 L504.4 334.7 L503.7 332.8 L503.0 331.3 L502.3 329.7 L501.6 327.9 L500.9 326.0 L500.2 324.0 L499.5 321.8 L498.8 319.2 L498.1 316.2 L497.4 313.3 L496.7 310.7 L496.0 308.2 L495.3 305.8 L494.6 303.5 L493.9 301.4 L493.2 299.6 L492.5 298.1 L491.8 296.8 L491.1 295.9 L490.4 295.2 L489.7 294.6 L489.0 294.4 L488.3 294.5 L487.6 294.7 L486.9 295.2 L486.2 296.7 L485.5 298.6 L484.8 300.6 L484.1 302.9 L483.4 305.4 L482.7 308.1 L482.0 310.9 L481.3 313.9 L480.6 317.1 L479.9 320.3 L479.2 323.7 L478.5 327.3 L477.8 330.9 L477.1 334.1 L476.4 336.9 L475.7 339.4 L475.0 341.7 L474.3 344.0 L473.6 346.4 L472.9 348.9 L472.2 351.3 L471.5 353.8 L470.8 356.2 L470.1 358.6 L469.4 360.9 L468.7 363.3 L468.0 365.9 L467.3 368.6 L466.6 371.6 L465.9 374.7 L465.2 377.7 L464.5 380.6 L463.8 383.5 L463.1 386.3 L462.4 388.9 L461.7 391.2 L461.0 393.3 L460.3 396.6 L459.6 400.5 L458.9 403.5 L458.2 406.1 L457.5 408.7 L456.8 411.1 L456.1 413.3 L455.4 415.3 L454.7 417.2 L454.0 419.0 L453.3 420.4 L452.6 421.6 L451.9 422.8 L451.2 423.8 L450.5 424.5 L449.8 424.9 L449.1 425.2 L448.4 425.5 L447.7 425.7 L447.0 425.9 L446.3 425.9 L445.6 425.9 L444.9 425.8 L444.2 425.7 L443.5 425.6 L442.8 425.5 L442.1 425.4 L441.4 425.3 L440.7 425.1 L440.0 424.9 L439.3 424.6 L438.6 424.3 L437.9 424.0 L437.2 423.8 L436.5 423.7 L435.8 423.7 L435.1 423.9 L434.4 424.0 L433.7 424.3 L433.0 424.5 L432.3 424.7 L431.6 424.9 L430.9 425.2 L430.2 425.5 L429.5 425.9 L428.8 426.2 L428.1 426.5 L427.4 426.9 L426.7 427.2 L426.0 427.4 L425.3 427.6 L424.6 427.9 L423.9 428.1 L423.2 428.3 L422.5 428.5 L421.8 428.7 L421.1 428.9 L420.4 429.1 L419.7 429.3 L419.0 429.5 L418.3 429.8 L417.6 430.0 L416.9 430.2 L416.2 430.5 L415.5 430.7 L414.8 431.0 L414.1 431.3 L413.4 431.5 L412.7 431.8 L412.0 432.2 L411.3 432.5 L410.6 432.8 L409.9 433.2 L409.2 433.6 L408.5 434.0 L407.8 434.4 L407.1 434.8 L406.4 435.2 L405.7 435.6 L405.0 436.0 L404.3 436.4 L403.6 436.8 L402.9 437.2 L402.2 437.6 L401.5 438.1 L400.8 438.5 L400.1 439.0 L399.4 439.5 L398.7 440.0 L398.0 440.5 L397.3 441.0 L396.6 441.6 L395.9 442.0 L395.2 442.5 L394.5 442.9 L393.8 443.4 L393.1 443.8 L392.4 444.2 L391.7 444.5 L391.0 444.8 L390.3 445.1 L389.6 445.4 L388.9 445.6 L388.2 445.9 L387.5 446.1 L386.8 446.3 L386.1 446.4 L385.4 446.5 L384.7 446.5 L384.0 446.4 L383.3 446.4 L382.6 446.2 L381.9 446.1 L381.2 445.9 L380.5 445.7 L379.8 445.5 L379.1 445.3 L378.4 444.9 L377.7 444.4 L377.0 444.0 L376.3 443.5 L375.6 443.0 L374.9 442.5 L374.2 442.1 L373.5 441.6 L372.8 441.1 L372.1 440.6 L371.4 440.1 L370.7 439.6 L370.0 439.1 L369.3 438.6 L368.6 438.0 L367.9 437.5 L367.2 436.9 L366.5 436.4 L365.8 435.9 L365.1 435.3 L364.4 434.8 L363.7 434.3 L363.0 433.7 L362.3 433.2 L361.6 432.7 L360.9 432.3 L360.2 431.8 L359.5 431.4 L358.8 430.9 L358.1 430.5 L357.4 430.1 L356.7 429.8 L356.0 429.4 L355.3 429.1 L354.6 428.8 L353.9 428.5 L353.2 428.2 L352.5 427.9 L351.8 427.7 L351.1 427.4 L350.4 427.1 L349.7 426.9 L349.0 426.6 L348.3 426.3 L347.6 426.0 L346.9 425.7 L346.2 425.3 L345.5 424.9 L344.8 424.3 L344.1 423.7 L343.4 423.0 L342.7 422.3 L342.0 421.6 L341.3 420.7 L340.6 419.8 L339.9 418.9 L339.2 417.9 L338.5 416.8 L337.8 415.6 L337.1 414.3 L336.4 412.9 L335.7 411.6 L335.0 410.4 L334.3 409.3 L333.6 408.2 L332.9 407.2 L332.2 406.1 L331.5 405.1 L330.8 404.0 L330.1 402.8 L329.4 401.6 L328.7 400.5 L328.0 399.4 L327.3 398.4 L326.6 397.4 L325.9 396.4 L325.2 395.5 L324.5 394.7 L323.8 393.9 L323.1 393.2 L322.4 392.5 L321.7 391.9 L321.0 391.4 L320.3 390.8 L319.6 390.4 L318.9 389.9 L318.2 389.5 L317.5 389.1 L316.8 388.7 L316.1 388.4 L315.4 388.1Z" fill="#bdbdbd"/>
<path d="M459.51 281.4V484.1" stroke="#555" stroke-width="1.3" fill="none"/>
<path d="M463.88 281.4V484.1" stroke="#787878" stroke-width="1.45" stroke-dasharray="3.7 2.9" fill="none"/>
<path d="M315.4 430.7 L316.1 431.4 L316.8 431.9 L317.5 432.3 L318.2 432.5 L318.9 432.6 L319.6 432.6 L320.3 432.6 L321.0 432.4 L321.7 432.3 L322.4 432.1 L323.1 431.9 L323.8 431.7 L324.5 431.5 L325.2 431.4 L325.9 431.4 L326.6 431.5 L327.3 431.7 L328.0 432.0 L328.7 432.5 L329.4 433.1 L330.1 434.0 L330.8 435.0 L331.5 436.2 L332.2 437.6 L332.9 439.0 L333.6 440.6 L334.3 442.1 L335.0 443.8 L335.7 445.4 L336.4 446.9 L337.1 448.4 L337.8 449.8 L338.5 451.1 L339.2 452.2 L339.9 453.2 L340.6 453.9 L341.3 454.5 L342.0 455.0 L342.7 455.3 L343.4 455.6 L344.1 455.7 L344.8 455.8 L345.5 455.9 L346.2 455.9 L346.9 455.9 L347.6 455.9 L348.3 455.9 L349.0 456.0 L349.7 456.0 L350.4 456.1 L351.1 456.2 L351.8 456.4 L352.5 456.5 L353.2 456.6 L353.9 456.8 L354.6 457.0 L355.3 457.1 L356.0 457.3 L356.7 457.5 L357.4 457.7 L358.1 457.9 L358.8 458.0 L359.5 458.2 L360.2 458.4 L360.9 458.5 L361.6 458.7 L362.3 458.8 L363.0 458.9 L363.7 459.0 L364.4 459.1 L365.1 459.2 L365.8 459.3 L366.5 459.3 L367.2 459.4 L367.9 459.4 L368.6 459.4 L369.3 459.4 L370.0 459.4 L370.7 459.4 L371.4 459.4 L372.1 459.4 L372.8 459.4 L373.5 459.3 L374.2 459.3 L374.9 459.2 L375.6 459.1 L376.3 459.0 L377.0 459.0 L377.7 458.9 L378.4 458.8 L379.1 458.6 L379.8 458.5 L380.5 458.4 L381.2 458.3 L381.9 458.1 L382.6 458.0 L383.3 457.8 L384.0 457.6 L384.7 457.5 L385.4 457.3 L386.1 457.1 L386.8 456.9 L387.5 456.6 L388.2 456.4 L388.9 456.1 L389.6 455.9 L390.3 455.6 L391.0 455.3 L391.7 455.0 L392.4 454.7 L393.1 454.3 L393.8 454.0 L394.5 453.6 L395.2 453.2 L395.9 452.8 L396.6 452.4 L397.3 452.0 L398.0 451.5 L398.7 451.0 L399.4 450.5 L400.1 450.0 L400.8 449.4 L401.5 448.9 L402.2 448.3 L402.9 447.7 L403.6 447.0 L404.3 446.4 L405.0 445.7 L405.7 445.0 L406.4 444.2 L407.1 443.5 L407.8 442.7 L408.5 441.9 L409.2 441.1 L409.9 440.3 L410.6 439.4 L411.3 438.5 L412.0 437.7 L412.7 436.8 L413.4 435.8 L414.1 434.9 L414.8 434.0 L415.5 433.0 L416.2 432.0 L416.9 431.1 L417.6 430.1 L418.3 429.1 L419.0 428.1 L419.7 427.1 L420.4 426.0 L421.1 425.0 L421.8 424.0 L422.5 423.0 L423.2 422.0 L423.9 420.9 L424.6 419.9 L425.3 418.9 L426.0 417.9 L426.7 416.9 L427.4 415.9 L428.1 415.0 L428.8 414.0 L429.5 413.1 L430.2 412.1 L430.9 411.2 L431.6 410.3 L432.3 409.5 L433.0 408.6 L433.7 407.8 L434.4 407.0 L435.1 406.2 L435.8 405.4 L436.5 404.6 L437.2 403.8 L437.9 403.0 L438.6 402.2 L439.3 401.3 L440.0 400.5 L440.7 399.5 L441.4 398.6 L442.1 397.6 L442.8 396.5 L443.5 395.4 L444.2 394.3 L444.9 393.1 L445.6 391.8 L446.3 390.4 L447.0 388.9 L447.7 387.4 L448.4 385.9 L449.1 384.3 L449.8 382.7 L450.5 381.1 L451.2 379.5 L451.9 378.1 L452.6 376.7 L453.3 375.4 L454.0 374.3 L454.7 373.2 L455.4 372.3 L456.1 371.4 L456.8 370.6 L457.5 369.9 L458.2 369.3 L458.9 368.7 L459.6 368.1 L460.3 367.6 L461.0 367.2 L461.7 366.7 L462.4 366.1 L463.1 365.5 L463.8 364.8 L464.5 363.8 L465.2 362.7 L465.9 361.2 L466.6 359.5 L467.3 357.3 L468.0 354.9 L468.7 352.4 L469.4 349.8 L470.1 347.1 L470.8 344.4 L471.5 341.7 L472.2 339.0 L472.9 336.4 L473.6 333.8 L474.3 331.3 L475.0 328.9 L475.7 326.7 L476.4 324.5 L477.1 322.6 L477.8 320.8 L478.5 319.2 L479.2 317.9 L479.9 316.7 L480.6 315.8 L481.3 315.0 L482.0 314.5 L482.7 314.1 L483.4 313.8 L484.1 313.8 L484.8 313.8 L485.5 314.0 L486.2 314.3 L486.9 314.7 L487.6 315.2 L488.3 315.8 L489.0 316.5 L489.7 317.2 L490.4 318.0 L491.1 318.9 L491.8 319.9 L492.5 321.0 L493.2 322.2 L493.9 323.5 L494.6 324.9 L495.3 326.4 L496.0 328.0 L496.7 329.7 L497.4 331.5 L498.1 333.5 L498.8 335.6 L499.5 337.8 L500.2 340.2 L500.9 342.7 L501.6 345.3 L502.3 348.1 L503.0 350.9 L503.7 353.9 L504.4 356.9 L505.1 359.9 L505.8 363.0 L506.5 366.0 L507.2 369.1 L507.9 372.1 L508.6 375.1 L509.3 378.0 L510.0 380.8 L510.7 383.5 L511.4 386.1 L512.1 388.6 L512.8 391.0 L513.5 393.2 L514.2 395.2 L514.9 397.2 L515.6 399.1 L516.3 401.0 L517.0 403.0 L517.7 404.9 L518.4 406.9 L519.1 408.9 L519.8 410.9 L520.5 412.9 L521.2 414.9 L521.9 416.8 L522.6 418.7 L523.3 420.5 L524.2 422.7" stroke="#000" stroke-width="1.6" stroke-dasharray="3.7 2.6" fill="none" stroke-linejoin="round"/>
<path d="M315.4 385.2 L316.1 385.4 L316.8 385.6 L317.5 385.9 L318.2 386.2 L318.9 386.7 L319.6 387.2 L320.3 387.7 L321.0 388.3 L321.7 389.0 L322.4 389.7 L323.1 390.4 L323.8 391.2 L324.5 392.1 L325.2 392.9 L325.9 393.9 L326.6 394.8 L327.3 395.8 L328.0 396.9 L328.7 397.9 L329.4 399.0 L330.1 400.1 L330.8 401.3 L331.5 402.4 L332.2 403.6 L332.9 404.8 L333.6 406.0 L334.3 407.2 L335.0 408.4 L335.7 409.6 L336.4 410.7 L337.1 411.9 L337.8 413.0 L338.5 414.1 L339.2 415.2 L339.9 416.2 L340.6 417.2 L341.3 418.1 L342.0 419.0 L342.7 419.8 L343.4 420.5 L344.1 421.2 L344.8 421.8 L345.5 422.4 L346.2 423.0 L346.9 423.4 L347.6 423.9 L348.3 424.3 L349.0 424.7 L349.7 425.0 L350.4 425.3 L351.1 425.6 L351.8 425.9 L352.5 426.1 L353.2 426.4 L353.9 426.6 L354.6 426.9 L355.3 427.1 L356.0 427.4 L356.7 427.6 L357.4 427.9 L358.1 428.2 L358.8 428.5 L359.5 428.8 L360.2 429.2 L360.9 429.5 L361.6 430.0 L362.3 430.4 L363.0 430.9 L363.7 431.4 L364.4 432.0 L365.1 432.5 L365.8 433.1 L366.5 433.7 L367.2 434.3 L367.9 434.9 L368.6 435.6 L369.3 436.2 L370.0 436.8 L370.7 437.4 L371.4 437.9 L372.1 438.5 L372.8 439.0 L373.5 439.6 L374.2 440.0 L374.9 440.5 L375.6 440.9 L376.3 441.3 L377.0 441.6 L377.7 441.9 L378.4 442.1 L379.1 442.4 L379.8 442.5 L380.5 442.7 L381.2 442.8 L381.9 442.9 L382.6 443.0 L383.3 443.0 L384.0 443.0 L384.7 442.9 L385.4 442.9 L386.1 442.8 L386.8 442.7 L387.5 442.5 L388.2 442.4 L388.9 442.2 L389.6 442.0 L390.3 441.8 L391.0 441.5 L391.7 441.3 L392.4 441.0 L393.1 440.7 L393.8 440.4 L394.5 440.1 L395.2 439.7 L395.9 439.4 L396.6 439.0 L397.3 438.6 L398.0 438.2 L398.7 437.8 L399.4 437.4 L400.1 437.0 L400.8 436.6 L401.5 436.2 L402.2 435.8 L402.9 435.3 L403.6 434.9 L404.3 434.5 L405.0 434.0 L405.7 433.6 L406.4 433.2 L407.1 432.8 L407.8 432.3 L408.5 431.9 L409.2 431.5 L409.9 431.1 L410.6 430.7 L411.3 430.3 L412.0 430.0 L412.7 429.6 L413.4 429.2 L414.1 428.9 L414.8 428.6 L415.5 428.2 L416.2 427.9 L416.9 427.6 L417.6 427.3 L418.3 427.1 L419.0 426.8 L419.7 426.5 L420.4 426.3 L421.1 426.0 L421.8 425.8 L422.5 425.5 L423.2 425.3 L423.9 425.1 L424.6 424.9 L425.3 424.7 L426.0 424.5 L426.7 424.3 L427.4 424.1 L428.1 423.9 L428.8 423.7 L429.5 423.5 L430.2 423.4 L430.9 423.2 L431.6 423.0 L432.3 422.9 L433.0 422.7 L433.7 422.5 L434.4 422.4 L435.1 422.2 L435.8 422.0 L436.5 421.9 L437.2 421.7 L437.9 421.6 L438.6 421.4 L439.3 421.3 L440.0 421.1 L440.7 420.9 L441.4 420.7 L442.1 420.5 L442.8 420.3 L443.5 420.0 L444.2 419.8 L444.9 419.4 L445.6 419.1 L446.3 418.6 L447.0 418.2 L447.7 417.6 L448.4 417.0 L449.1 416.4 L449.8 415.7 L450.5 414.9 L451.2 414.0 L451.9 413.0 L452.6 411.9 L453.3 410.8 L454.0 409.5 L454.7 408.1 L455.4 406.7 L456.1 405.1 L456.8 403.4 L457.5 401.6 L458.2 399.7 L458.9 397.6 L459.6 395.5 L460.3 393.2 L461.0 390.8 L461.7 388.3 L462.4 385.7 L463.1 383.0 L463.8 380.1 L464.5 377.1 L465.2 374.0 L465.9 370.8 L466.6 367.5 L467.3 364.1 L468.0 360.7 L468.7 357.3 L469.4 353.8 L470.1 350.3 L470.8 346.8 L471.5 343.4 L472.2 340.0 L472.9 336.7 L473.6 333.4 L474.3 330.2 L475.0 327.1 L475.7 324.0 L476.4 321.1 L477.1 318.2 L477.8 315.4 L478.5 312.7 L479.2 310.0 L479.9 307.5 L480.6 305.0 L481.3 302.7 L482.0 300.6 L482.7 298.6 L483.4 296.8 L484.1 295.1 L484.8 293.7 L485.5 292.4 L486.2 291.3 L486.9 290.5 L487.6 289.7 L488.3 289.2 L489.0 288.9 L489.7 288.8 L490.4 288.8 L491.1 289.1 L491.8 289.5 L492.5 290.1 L493.2 290.9 L493.9 291.8 L494.6 292.9 L495.3 294.2 L496.0 295.6 L496.7 297.2 L497.4 298.9 L498.1 300.7 L498.8 302.6 L499.5 304.7 L500.2 306.9 L500.9 309.2 L501.6 311.6 L502.3 314.1 L503.0 316.7 L503.7 319.3 L504.4 322.1 L505.1 324.9 L505.8 327.8 L506.5 330.7 L507.2 333.8 L507.9 336.8 L508.6 339.8 L509.3 342.9 L510.0 345.9 L510.7 348.9 L511.4 351.9 L512.1 354.8 L512.8 357.6 L513.5 360.3 L514.2 362.9 L514.9 365.3 L515.6 367.7 L516.3 369.8 L517.0 371.8 L517.7 373.6 L518.4 375.2 L519.1 376.7 L519.8 378.0 L520.5 379.3 L521.2 380.4 L521.9 381.4 L522.6 382.2 L523.3 383.0 L524.2 383.9" stroke="#000" stroke-width="1.6" fill="none" stroke-linejoin="round"/>
<path d="M313.70 281.40V484.08H524.08M313.70 484.08v-2.1M355.36 484.08v-2.1M397.02 484.08v-2.1M438.68 484.08v-2.1M480.34 484.08v-2.1M522.00 484.08v-2.1M313.70 484.08h2.1M313.70 450.30h2.1M313.70 416.52h2.1M313.70 382.74h2.1M313.70 348.96h2.1M313.70 315.18h2.1M313.70 281.40h2.1" stroke="#858585" stroke-width="1.0" fill="none"/>
<text x="313.7" y="499.1" text-anchor="middle" font-family="Liberation Sans, sans-serif" font-size="10.4" fill="#2e2e2e">0</text>
<text x="355.4" y="499.1" text-anchor="middle" font-family="Liberation Sans, sans-serif" font-size="10.4" fill="#2e2e2e">20</text>
<text x="397.0" y="499.1" text-anchor="middle" font-family="Liberation Sans, sans-serif" font-size="10.4" fill="#2e2e2e">40</text>
<text x="438.7" y="499.1" text-anchor="middle" font-family="Liberation Sans, sans-serif" font-size="10.4" fill="#2e2e2e">60</text>
<text x="480.3" y="499.1" text-anchor="middle" font-family="Liberation Sans, sans-serif" font-size="10.4" fill="#2e2e2e">80</text>
<text x="522.0" y="499.1" text-anchor="middle" font-family="Liberation Sans, sans-serif" font-size="10.4" fill="#2e2e2e">100</text>
<text x="309.7" y="488.6" text-anchor="end" font-family="Liberation Sans, sans-serif" font-size="10.4" fill="#2e2e2e">0</text>
<text x="309.7" y="454.8" text-anchor="end" font-family="Liberation Sans, sans-serif" font-size="10.4" fill="#2e2e2e">10</text>
<text x="309.7" y="421.0" text-anchor="end" font-family="Liberation Sans, sans-serif" font-size="10.4" fill="#2e2e2e">20</text>
<text x="309.7" y="387.2" text-anchor="end" font-family="Liberation Sans, sans-serif" font-size="10.4" fill="#2e2e2e">30</text>
<text x="309.7" y="353.5" text-anchor="end" font-family="Liberation Sans, sans-serif" font-size="10.4" fill="#2e2e2e">40</text>
<text x="309.7" y="319.7" text-anchor="end" font-family="Liberation Sans, sans-serif" font-size="10.4" fill="#2e2e2e">50</text>
<text x="309.7" y="285.9" text-anchor="end" font-family="Liberation Sans, sans-serif" font-size="10.4" fill="#2e2e2e">60</text>
<text x="418.9" y="514.6" text-anchor="middle" font-family="Liberation Sans, sans-serif" font-size="12.1" fill="#333">Gait Cycle [%]</text>
<text transform="translate(293.4 382.7) rotate(-90)" text-anchor="middle" font-family="Liberation Sans, sans-serif" font-size="12.1" fill="#333">Joint Angle [deg]</text>
<text x="418.9" y="276.8" text-anchor="middle" font-family="Liberation Sans, sans-serif" font-weight="bold" font-size="10.8" fill="#000">Right Knee Angle</text>
</g>
<g id="legend">
<rect x="217.6" y="501.3" width="125.9" height="14.8" fill="#fff" stroke="#777" stroke-width="0.9"/>
<path d="M219 509H235.7" stroke="#000" stroke-width="1.4" stroke-dasharray="2.8 1.9" fill="none"/>
<path d="M290.8 509H306.2" stroke="#000" stroke-width="1.3" fill="none"/>
<text x="236.9" y="513.2" textLength="48.9" lengthAdjust="spacingAndGlyphs" font-family="Liberation Sans, sans-serif" font-size="11" fill="#111">No Device</text>
<text x="308.8" y="513.2" textLength="32" lengthAdjust="spacingAndGlyphs" font-family="Liberation Sans, sans-serif" font-size="11" fill="#111">Device</text>
</g>
</svg>
</body></html>
